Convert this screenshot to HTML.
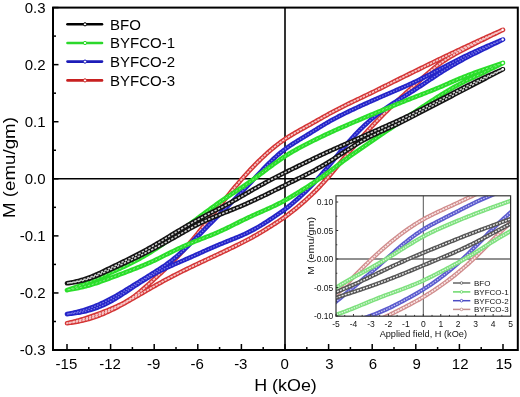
<!DOCTYPE html>
<html><head><meta charset="utf-8"><style>
html,body{margin:0;padding:0;background:#fff;}
body{width:520px;height:397px;overflow:hidden;}
svg{display:block;}
text{font-family:"Liberation Sans",Arial,sans-serif;fill:#000;}
.tl{font-size:15px;}
.ax{font-size:16px;}
.lg{font-size:15px;}
.it{font-size:8.5px;fill:#111;}
.ia{font-size:9.2px;fill:#111;}
.ia2{font-size:9px;fill:#111;}
.il{font-size:8px;fill:#111;}
</style></head><body>
<svg width="520" height="397" viewBox="0 0 520 397">
<defs><clipPath id="ic"><rect x="336" y="195.8" width="174.6" height="120.4"/></clipPath></defs>
<line x1="53" y1="178.8" x2="517.8" y2="178.8" stroke="#000" stroke-width="1.6"/>
<line x1="285.0" y1="7.6" x2="285.0" y2="350" stroke="#000" stroke-width="1.6"/>
<path d="M502.99,29.82 L501.54,30.47 L500.09,31.11 L498.64,31.76 L497.18,32.41 L495.73,33.05 L494.28,33.70 L492.82,34.35 L491.37,35.00 L489.92,35.66 L488.46,36.31 L487.01,36.96 L485.56,37.62 L484.10,38.28 L482.65,38.94 L481.20,39.60 L479.74,40.27 L478.29,40.93 L476.84,41.60 L475.38,42.27 L473.93,42.94 L472.48,43.62 L471.02,44.29 L469.57,44.97 L468.12,45.65 L466.66,46.33 L465.21,47.01 L463.76,47.69 L462.30,48.38 L460.85,49.06 L459.40,49.75 L457.94,50.43 L456.49,51.12 L455.04,51.81 L453.58,52.49 L452.13,53.18 L450.68,53.87 L449.22,54.56 L447.77,55.26 L446.32,55.95 L444.86,56.64 L443.41,57.34 L441.96,58.04 L440.50,58.74 L439.05,59.44 L437.60,60.14 L436.14,60.84 L434.69,61.55 L433.24,62.26 L431.78,62.96 L430.33,63.67 L428.88,64.38 L427.42,65.09 L425.97,65.81 L424.52,66.52 L423.06,67.23 L421.61,67.94 L420.16,68.66 L418.70,69.37 L417.25,70.08 L415.80,70.79 L414.34,71.50 L412.89,72.22 L411.44,72.93 L409.98,73.64 L408.53,74.35 L407.08,75.06 L405.62,75.78 L404.17,76.49 L402.72,77.21 L401.26,77.93 L399.81,78.65 L398.36,79.37 L396.90,80.10 L395.45,80.82 L394.00,81.55 L392.54,82.28 L391.09,83.01 L389.64,83.74 L388.18,84.47 L386.73,85.20 L385.28,85.92 L383.82,86.65 L382.37,87.38 L380.92,88.10 L379.46,88.83 L378.01,89.55 L376.56,90.27 L375.10,90.98 L373.65,91.70 L372.20,92.41 L370.74,93.11 L369.29,93.82 L367.84,94.52 L366.38,95.22 L364.93,95.92 L363.48,96.61 L362.02,97.31 L360.57,98.00 L359.12,98.70 L357.66,99.39 L356.21,100.09 L354.76,100.78 L353.31,101.48 L351.85,102.18 L350.40,102.88 L348.95,103.59 L347.49,104.30 L346.04,105.02 L344.59,105.74 L343.13,106.46 L341.68,107.20 L340.23,107.94 L338.77,108.68 L337.32,109.44 L335.87,110.19 L334.41,110.96 L332.96,111.74 L331.51,112.52 L330.05,113.31 L328.60,114.10 L327.15,114.90 L325.69,115.71 L324.24,116.53 L322.79,117.34 L321.33,118.17 L319.88,118.99 L318.43,119.81 L316.97,120.63 L315.52,121.45 L314.07,122.27 L312.61,123.09 L311.16,123.90 L309.71,124.70 L308.25,125.51 L306.80,126.32 L305.35,127.12 L303.89,127.93 L302.44,128.74 L300.99,129.55 L299.53,130.36 L298.08,131.18 L296.63,132.00 L295.17,132.84 L293.72,133.68 L292.27,134.54 L290.81,135.41 L289.36,136.31 L287.91,137.22 L286.45,138.16 L285.00,139.13 L283.55,140.12 L282.09,141.14 L280.64,142.19 L279.19,143.27 L277.73,144.37 L276.28,145.50 L274.83,146.66 L273.37,147.84 L271.92,149.05 L270.47,150.28 L269.01,151.54 L267.56,152.82 L266.11,154.13 L264.65,155.46 L263.20,156.81 L261.75,158.19 L260.29,159.58 L258.84,161.00 L257.39,162.44 L255.93,163.90 L254.48,165.39 L253.03,166.89 L251.57,168.41 L250.12,169.95 L248.67,171.51 L247.21,173.09 L245.76,174.69 L244.31,176.30 L242.85,177.94 L241.40,179.59 L239.95,181.26 L238.49,182.95 L237.04,184.65 L235.59,186.36 L234.13,188.09 L232.68,189.84 L231.23,191.59 L229.77,193.36 L228.32,195.13 L226.87,196.92 L225.41,198.71 L223.96,200.50 L222.51,202.31 L221.05,204.12 L219.60,205.94 L218.15,207.76 L216.69,209.59 L215.24,211.42 L213.79,213.25 L212.33,215.09 L210.88,216.93 L209.43,218.77 L207.98,220.61 L206.52,222.45 L205.07,224.29 L203.62,226.12 L202.16,227.94 L200.71,229.75 L199.26,231.56 L197.80,233.35 L196.35,235.13 L194.90,236.90 L193.44,238.65 L191.99,240.38 L190.54,242.10 L189.08,243.80 L187.63,245.49 L186.18,247.15 L184.72,248.80 L183.27,250.43 L181.82,252.03 L180.36,253.61 L178.91,255.18 L177.46,256.72 L176.00,258.24 L174.55,259.75 L173.10,261.23 L171.64,262.69 L170.19,264.14 L168.74,265.56 L167.28,266.97 L165.83,268.36 L164.38,269.73 L162.92,271.09 L161.47,272.45 L160.02,273.79 L158.56,275.13 L157.11,276.46 L155.66,277.79 L154.20,279.12 L152.75,280.45 L151.30,281.78 L149.84,283.11 L148.39,284.43 L146.94,285.74 L145.48,287.04 L144.03,288.32 L142.58,289.58 L141.12,290.81 L139.67,292.03 L138.22,293.21 L136.76,294.36 L135.31,295.47 L133.86,296.55 L132.40,297.58 L130.95,298.57 L129.50,299.52 L128.04,300.43 L126.59,301.30 L125.14,302.13 L123.68,302.93 L122.23,303.71 L120.78,304.45 L119.32,305.17 L117.87,305.86 L116.42,306.54 L114.96,307.19 L113.51,307.83 L112.06,308.46 L110.60,309.07 L109.15,309.68 L107.70,310.27 L106.24,310.86 L104.79,311.44 L103.34,312.01 L101.88,312.57 L100.43,313.13 L98.98,313.67 L97.52,314.21 L96.07,314.74 L94.62,315.26 L93.16,315.77 L91.71,316.27 L90.26,316.76 L88.80,317.25 L87.35,317.73 L85.90,318.20 L84.44,318.66 L82.99,319.11 L81.54,319.54 L80.08,319.97 L78.63,320.38 L77.18,320.77 L75.72,321.15 L74.27,321.52 L72.82,321.88 L71.36,322.23 L69.91,322.57 L68.46,322.91 L67.00,323.24 L67.00,323.25 L68.46,323.04 L69.91,322.83 L71.36,322.61 L72.82,322.39 L74.27,322.16 L75.72,321.92 L77.18,321.66 L78.63,321.39 L80.08,321.10 L81.54,320.79 L82.99,320.46 L84.44,320.12 L85.90,319.75 L87.35,319.36 L88.80,318.96 L90.26,318.53 L91.71,318.08 L93.16,317.61 L94.62,317.12 L96.07,316.61 L97.52,316.08 L98.98,315.53 L100.43,314.97 L101.88,314.38 L103.34,313.78 L104.79,313.16 L106.24,312.52 L107.70,311.86 L109.15,311.19 L110.60,310.50 L112.06,309.80 L113.51,309.08 L114.96,308.35 L116.42,307.61 L117.87,306.85 L119.32,306.08 L120.78,305.30 L122.23,304.51 L123.68,303.71 L125.14,302.91 L126.59,302.09 L128.04,301.27 L129.50,300.45 L130.95,299.62 L132.40,298.78 L133.86,297.95 L135.31,297.11 L136.76,296.27 L138.22,295.42 L139.67,294.58 L141.12,293.74 L142.58,292.89 L144.03,292.05 L145.48,291.21 L146.94,290.37 L148.39,289.53 L149.84,288.69 L151.30,287.86 L152.75,287.03 L154.20,286.20 L155.66,285.38 L157.11,284.56 L158.56,283.75 L160.02,282.94 L161.47,282.14 L162.92,281.34 L164.38,280.55 L165.83,279.76 L167.28,278.98 L168.74,278.21 L170.19,277.44 L171.64,276.67 L173.10,275.92 L174.55,275.17 L176.00,274.42 L177.46,273.68 L178.91,272.95 L180.36,272.22 L181.82,271.49 L183.27,270.77 L184.72,270.06 L186.18,269.35 L187.63,268.65 L189.08,267.95 L190.54,267.25 L191.99,266.56 L193.44,265.86 L194.90,265.18 L196.35,264.49 L197.80,263.80 L199.26,263.12 L200.71,262.44 L202.16,261.76 L203.62,261.08 L205.07,260.40 L206.52,259.72 L207.98,259.04 L209.43,258.36 L210.88,257.68 L212.33,257.00 L213.79,256.32 L215.24,255.64 L216.69,254.96 L218.15,254.27 L219.60,253.59 L221.05,252.90 L222.51,252.21 L223.96,251.52 L225.41,250.82 L226.87,250.13 L228.32,249.43 L229.77,248.73 L231.23,248.02 L232.68,247.31 L234.13,246.60 L235.59,245.88 L237.04,245.16 L238.49,244.44 L239.95,243.71 L241.40,242.98 L242.85,242.24 L244.31,241.50 L245.76,240.76 L247.21,240.00 L248.67,239.24 L250.12,238.47 L251.57,237.68 L253.03,236.89 L254.48,236.08 L255.93,235.27 L257.39,234.43 L258.84,233.59 L260.29,232.73 L261.75,231.86 L263.20,230.98 L264.65,230.10 L266.11,229.20 L267.56,228.30 L269.01,227.40 L270.47,226.49 L271.92,225.57 L273.37,224.65 L274.83,223.72 L276.28,222.79 L277.73,221.84 L279.19,220.88 L280.64,219.91 L282.09,218.92 L283.55,217.91 L285.00,216.88 L286.45,215.83 L287.91,214.76 L289.36,213.67 L290.81,212.55 L292.27,211.42 L293.72,210.27 L295.17,209.10 L296.63,207.91 L298.08,206.71 L299.53,205.48 L300.99,204.25 L302.44,202.99 L303.89,201.72 L305.35,200.43 L306.80,199.12 L308.25,197.78 L309.71,196.43 L311.16,195.06 L312.61,193.66 L314.07,192.24 L315.52,190.79 L316.97,189.32 L318.43,187.83 L319.88,186.31 L321.33,184.76 L322.79,183.20 L324.24,181.60 L325.69,179.99 L327.15,178.35 L328.60,176.68 L330.05,174.99 L331.51,173.28 L332.96,171.55 L334.41,169.81 L335.87,168.06 L337.32,166.30 L338.77,164.53 L340.23,162.76 L341.68,161.00 L343.13,159.24 L344.59,157.49 L346.04,155.74 L347.49,154.01 L348.95,152.28 L350.40,150.56 L351.85,148.86 L353.31,147.16 L354.76,145.46 L356.21,143.78 L357.66,142.11 L359.12,140.44 L360.57,138.78 L362.02,137.14 L363.48,135.50 L364.93,133.87 L366.38,132.26 L367.84,130.65 L369.29,129.06 L370.74,127.49 L372.20,125.92 L373.65,124.37 L375.10,122.83 L376.56,121.31 L378.01,119.80 L379.46,118.30 L380.92,116.82 L382.37,115.35 L383.82,113.89 L385.28,112.45 L386.73,111.02 L388.18,109.60 L389.64,108.19 L391.09,106.80 L392.54,105.41 L394.00,104.04 L395.45,102.67 L396.90,101.32 L398.36,99.97 L399.81,98.63 L401.26,97.29 L402.72,95.97 L404.17,94.64 L405.62,93.33 L407.08,92.01 L408.53,90.70 L409.98,89.39 L411.44,88.08 L412.89,86.77 L414.34,85.45 L415.80,84.14 L417.25,82.82 L418.70,81.49 L420.16,80.17 L421.61,78.86 L423.06,77.55 L424.52,76.25 L425.97,74.96 L427.42,73.68 L428.88,72.42 L430.33,71.18 L431.78,69.96 L433.24,68.76 L434.69,67.59 L436.14,66.44 L437.60,65.33 L439.05,64.25 L440.50,63.20 L441.96,62.19 L443.41,61.20 L444.86,60.24 L446.32,59.30 L447.77,58.39 L449.22,57.49 L450.68,56.62 L452.13,55.77 L453.58,54.93 L455.04,54.11 L456.49,53.29 L457.94,52.50 L459.40,51.71 L460.85,50.92 L462.30,50.15 L463.76,49.38 L465.21,48.62 L466.66,47.87 L468.12,47.12 L469.57,46.37 L471.02,45.63 L472.48,44.90 L473.93,44.17 L475.38,43.44 L476.84,42.71 L478.29,41.99 L479.74,41.27 L481.20,40.55 L482.65,39.83 L484.10,39.11 L485.56,38.39 L487.01,37.67 L488.46,36.96 L489.92,36.24 L491.37,35.53 L492.82,34.81 L494.28,34.10 L495.73,33.39 L497.18,32.67 L498.64,31.96 L500.09,31.25 L501.54,30.53 L502.99,29.82 Z" fill="none" stroke="#d43434" stroke-width="4.6" stroke-linejoin="round"/>
<path d="M502.99,29.82 L501.54,30.47 L500.09,31.11 L498.64,31.76 L497.18,32.41 L495.73,33.05 L494.28,33.70 L492.82,34.35 L491.37,35.00 L489.92,35.66 L488.46,36.31 L487.01,36.96 L485.56,37.62 L484.10,38.28 L482.65,38.94 L481.20,39.60 L479.74,40.27 L478.29,40.93 L476.84,41.60 L475.38,42.27 L473.93,42.94 L472.48,43.62 L471.02,44.29 L469.57,44.97 L468.12,45.65 L466.66,46.33 L465.21,47.01 L463.76,47.69 L462.30,48.38 L460.85,49.06 L459.40,49.75 L457.94,50.43 L456.49,51.12 L455.04,51.81 L453.58,52.49 L452.13,53.18 L450.68,53.87 L449.22,54.56 L447.77,55.26 L446.32,55.95 L444.86,56.64 L443.41,57.34 L441.96,58.04 L440.50,58.74 L439.05,59.44 L437.60,60.14 L436.14,60.84 L434.69,61.55 L433.24,62.26 L431.78,62.96 L430.33,63.67 L428.88,64.38 L427.42,65.09 L425.97,65.81 L424.52,66.52 L423.06,67.23 L421.61,67.94 L420.16,68.66 L418.70,69.37 L417.25,70.08 L415.80,70.79 L414.34,71.50 L412.89,72.22 L411.44,72.93 L409.98,73.64 L408.53,74.35 L407.08,75.06 L405.62,75.78 L404.17,76.49 L402.72,77.21 L401.26,77.93 L399.81,78.65 L398.36,79.37 L396.90,80.10 L395.45,80.82 L394.00,81.55 L392.54,82.28 L391.09,83.01 L389.64,83.74 L388.18,84.47 L386.73,85.20 L385.28,85.92 L383.82,86.65 L382.37,87.38 L380.92,88.10 L379.46,88.83 L378.01,89.55 L376.56,90.27 L375.10,90.98 L373.65,91.70 L372.20,92.41 L370.74,93.11 L369.29,93.82 L367.84,94.52 L366.38,95.22 L364.93,95.92 L363.48,96.61 L362.02,97.31 L360.57,98.00 L359.12,98.70 L357.66,99.39 L356.21,100.09 L354.76,100.78 L353.31,101.48 L351.85,102.18 L350.40,102.88 L348.95,103.59 L347.49,104.30 L346.04,105.02 L344.59,105.74 L343.13,106.46 L341.68,107.20 L340.23,107.94 L338.77,108.68 L337.32,109.44 L335.87,110.19 L334.41,110.96 L332.96,111.74 L331.51,112.52 L330.05,113.31 L328.60,114.10 L327.15,114.90 L325.69,115.71 L324.24,116.53 L322.79,117.34 L321.33,118.17 L319.88,118.99 L318.43,119.81 L316.97,120.63 L315.52,121.45 L314.07,122.27 L312.61,123.09 L311.16,123.90 L309.71,124.70 L308.25,125.51 L306.80,126.32 L305.35,127.12 L303.89,127.93 L302.44,128.74 L300.99,129.55 L299.53,130.36 L298.08,131.18 L296.63,132.00 L295.17,132.84 L293.72,133.68 L292.27,134.54 L290.81,135.41 L289.36,136.31 L287.91,137.22 L286.45,138.16 L285.00,139.13 L283.55,140.12 L282.09,141.14 L280.64,142.19 L279.19,143.27 L277.73,144.37 L276.28,145.50 L274.83,146.66 L273.37,147.84 L271.92,149.05 L270.47,150.28 L269.01,151.54 L267.56,152.82 L266.11,154.13 L264.65,155.46 L263.20,156.81 L261.75,158.19 L260.29,159.58 L258.84,161.00 L257.39,162.44 L255.93,163.90 L254.48,165.39 L253.03,166.89 L251.57,168.41 L250.12,169.95 L248.67,171.51 L247.21,173.09 L245.76,174.69 L244.31,176.30 L242.85,177.94 L241.40,179.59 L239.95,181.26 L238.49,182.95 L237.04,184.65 L235.59,186.36 L234.13,188.09 L232.68,189.84 L231.23,191.59 L229.77,193.36 L228.32,195.13 L226.87,196.92 L225.41,198.71 L223.96,200.50 L222.51,202.31 L221.05,204.12 L219.60,205.94 L218.15,207.76 L216.69,209.59 L215.24,211.42 L213.79,213.25 L212.33,215.09 L210.88,216.93 L209.43,218.77 L207.98,220.61 L206.52,222.45 L205.07,224.29 L203.62,226.12 L202.16,227.94 L200.71,229.75 L199.26,231.56 L197.80,233.35 L196.35,235.13 L194.90,236.90 L193.44,238.65 L191.99,240.38 L190.54,242.10 L189.08,243.80 L187.63,245.49 L186.18,247.15 L184.72,248.80 L183.27,250.43 L181.82,252.03 L180.36,253.61 L178.91,255.18 L177.46,256.72 L176.00,258.24 L174.55,259.75 L173.10,261.23 L171.64,262.69 L170.19,264.14 L168.74,265.56 L167.28,266.97 L165.83,268.36 L164.38,269.73 L162.92,271.09 L161.47,272.45 L160.02,273.79 L158.56,275.13 L157.11,276.46 L155.66,277.79 L154.20,279.12 L152.75,280.45 L151.30,281.78 L149.84,283.11 L148.39,284.43 L146.94,285.74 L145.48,287.04 L144.03,288.32 L142.58,289.58 L141.12,290.81 L139.67,292.03 L138.22,293.21 L136.76,294.36 L135.31,295.47 L133.86,296.55 L132.40,297.58 L130.95,298.57 L129.50,299.52 L128.04,300.43 L126.59,301.30 L125.14,302.13 L123.68,302.93 L122.23,303.71 L120.78,304.45 L119.32,305.17 L117.87,305.86 L116.42,306.54 L114.96,307.19 L113.51,307.83 L112.06,308.46 L110.60,309.07 L109.15,309.68 L107.70,310.27 L106.24,310.86 L104.79,311.44 L103.34,312.01 L101.88,312.57 L100.43,313.13 L98.98,313.67 L97.52,314.21 L96.07,314.74 L94.62,315.26 L93.16,315.77 L91.71,316.27 L90.26,316.76 L88.80,317.25 L87.35,317.73 L85.90,318.20 L84.44,318.66 L82.99,319.11 L81.54,319.54 L80.08,319.97 L78.63,320.38 L77.18,320.77 L75.72,321.15 L74.27,321.52 L72.82,321.88 L71.36,322.23 L69.91,322.57 L68.46,322.91 L67.00,323.24 L67.00,323.25 L68.46,323.04 L69.91,322.83 L71.36,322.61 L72.82,322.39 L74.27,322.16 L75.72,321.92 L77.18,321.66 L78.63,321.39 L80.08,321.10 L81.54,320.79 L82.99,320.46 L84.44,320.12 L85.90,319.75 L87.35,319.36 L88.80,318.96 L90.26,318.53 L91.71,318.08 L93.16,317.61 L94.62,317.12 L96.07,316.61 L97.52,316.08 L98.98,315.53 L100.43,314.97 L101.88,314.38 L103.34,313.78 L104.79,313.16 L106.24,312.52 L107.70,311.86 L109.15,311.19 L110.60,310.50 L112.06,309.80 L113.51,309.08 L114.96,308.35 L116.42,307.61 L117.87,306.85 L119.32,306.08 L120.78,305.30 L122.23,304.51 L123.68,303.71 L125.14,302.91 L126.59,302.09 L128.04,301.27 L129.50,300.45 L130.95,299.62 L132.40,298.78 L133.86,297.95 L135.31,297.11 L136.76,296.27 L138.22,295.42 L139.67,294.58 L141.12,293.74 L142.58,292.89 L144.03,292.05 L145.48,291.21 L146.94,290.37 L148.39,289.53 L149.84,288.69 L151.30,287.86 L152.75,287.03 L154.20,286.20 L155.66,285.38 L157.11,284.56 L158.56,283.75 L160.02,282.94 L161.47,282.14 L162.92,281.34 L164.38,280.55 L165.83,279.76 L167.28,278.98 L168.74,278.21 L170.19,277.44 L171.64,276.67 L173.10,275.92 L174.55,275.17 L176.00,274.42 L177.46,273.68 L178.91,272.95 L180.36,272.22 L181.82,271.49 L183.27,270.77 L184.72,270.06 L186.18,269.35 L187.63,268.65 L189.08,267.95 L190.54,267.25 L191.99,266.56 L193.44,265.86 L194.90,265.18 L196.35,264.49 L197.80,263.80 L199.26,263.12 L200.71,262.44 L202.16,261.76 L203.62,261.08 L205.07,260.40 L206.52,259.72 L207.98,259.04 L209.43,258.36 L210.88,257.68 L212.33,257.00 L213.79,256.32 L215.24,255.64 L216.69,254.96 L218.15,254.27 L219.60,253.59 L221.05,252.90 L222.51,252.21 L223.96,251.52 L225.41,250.82 L226.87,250.13 L228.32,249.43 L229.77,248.73 L231.23,248.02 L232.68,247.31 L234.13,246.60 L235.59,245.88 L237.04,245.16 L238.49,244.44 L239.95,243.71 L241.40,242.98 L242.85,242.24 L244.31,241.50 L245.76,240.76 L247.21,240.00 L248.67,239.24 L250.12,238.47 L251.57,237.68 L253.03,236.89 L254.48,236.08 L255.93,235.27 L257.39,234.43 L258.84,233.59 L260.29,232.73 L261.75,231.86 L263.20,230.98 L264.65,230.10 L266.11,229.20 L267.56,228.30 L269.01,227.40 L270.47,226.49 L271.92,225.57 L273.37,224.65 L274.83,223.72 L276.28,222.79 L277.73,221.84 L279.19,220.88 L280.64,219.91 L282.09,218.92 L283.55,217.91 L285.00,216.88 L286.45,215.83 L287.91,214.76 L289.36,213.67 L290.81,212.55 L292.27,211.42 L293.72,210.27 L295.17,209.10 L296.63,207.91 L298.08,206.71 L299.53,205.48 L300.99,204.25 L302.44,202.99 L303.89,201.72 L305.35,200.43 L306.80,199.12 L308.25,197.78 L309.71,196.43 L311.16,195.06 L312.61,193.66 L314.07,192.24 L315.52,190.79 L316.97,189.32 L318.43,187.83 L319.88,186.31 L321.33,184.76 L322.79,183.20 L324.24,181.60 L325.69,179.99 L327.15,178.35 L328.60,176.68 L330.05,174.99 L331.51,173.28 L332.96,171.55 L334.41,169.81 L335.87,168.06 L337.32,166.30 L338.77,164.53 L340.23,162.76 L341.68,161.00 L343.13,159.24 L344.59,157.49 L346.04,155.74 L347.49,154.01 L348.95,152.28 L350.40,150.56 L351.85,148.86 L353.31,147.16 L354.76,145.46 L356.21,143.78 L357.66,142.11 L359.12,140.44 L360.57,138.78 L362.02,137.14 L363.48,135.50 L364.93,133.87 L366.38,132.26 L367.84,130.65 L369.29,129.06 L370.74,127.49 L372.20,125.92 L373.65,124.37 L375.10,122.83 L376.56,121.31 L378.01,119.80 L379.46,118.30 L380.92,116.82 L382.37,115.35 L383.82,113.89 L385.28,112.45 L386.73,111.02 L388.18,109.60 L389.64,108.19 L391.09,106.80 L392.54,105.41 L394.00,104.04 L395.45,102.67 L396.90,101.32 L398.36,99.97 L399.81,98.63 L401.26,97.29 L402.72,95.97 L404.17,94.64 L405.62,93.33 L407.08,92.01 L408.53,90.70 L409.98,89.39 L411.44,88.08 L412.89,86.77 L414.34,85.45 L415.80,84.14 L417.25,82.82 L418.70,81.49 L420.16,80.17 L421.61,78.86 L423.06,77.55 L424.52,76.25 L425.97,74.96 L427.42,73.68 L428.88,72.42 L430.33,71.18 L431.78,69.96 L433.24,68.76 L434.69,67.59 L436.14,66.44 L437.60,65.33 L439.05,64.25 L440.50,63.20 L441.96,62.19 L443.41,61.20 L444.86,60.24 L446.32,59.30 L447.77,58.39 L449.22,57.49 L450.68,56.62 L452.13,55.77 L453.58,54.93 L455.04,54.11 L456.49,53.29 L457.94,52.50 L459.40,51.71 L460.85,50.92 L462.30,50.15 L463.76,49.38 L465.21,48.62 L466.66,47.87 L468.12,47.12 L469.57,46.37 L471.02,45.63 L472.48,44.90 L473.93,44.17 L475.38,43.44 L476.84,42.71 L478.29,41.99 L479.74,41.27 L481.20,40.55 L482.65,39.83 L484.10,39.11 L485.56,38.39 L487.01,37.67 L488.46,36.96 L489.92,36.24 L491.37,35.53 L492.82,34.81 L494.28,34.10 L495.73,33.39 L497.18,32.67 L498.64,31.96 L500.09,31.25 L501.54,30.53 L502.99,29.82 Z" fill="none" stroke="#f6c6c6" stroke-width="1.7" stroke-dasharray="2.6 0.8"/>
<path d="M502.99,39.52 L501.54,40.12 L500.09,40.73 L498.64,41.33 L497.18,41.93 L495.73,42.54 L494.28,43.15 L492.82,43.76 L491.37,44.37 L489.92,44.99 L488.46,45.61 L487.01,46.23 L485.56,46.86 L484.10,47.49 L482.65,48.13 L481.20,48.77 L479.74,49.42 L478.29,50.07 L476.84,50.73 L475.38,51.39 L473.93,52.06 L472.48,52.73 L471.02,53.42 L469.57,54.10 L468.12,54.79 L466.66,55.49 L465.21,56.19 L463.76,56.90 L462.30,57.62 L460.85,58.34 L459.40,59.06 L457.94,59.79 L456.49,60.53 L455.04,61.27 L453.58,62.01 L452.13,62.76 L450.68,63.51 L449.22,64.27 L447.77,65.03 L446.32,65.79 L444.86,66.55 L443.41,67.31 L441.96,68.08 L440.50,68.84 L439.05,69.61 L437.60,70.37 L436.14,71.13 L434.69,71.90 L433.24,72.66 L431.78,73.42 L430.33,74.17 L428.88,74.92 L427.42,75.67 L425.97,76.41 L424.52,77.15 L423.06,77.89 L421.61,78.62 L420.16,79.34 L418.70,80.05 L417.25,80.76 L415.80,81.46 L414.34,82.15 L412.89,82.83 L411.44,83.51 L409.98,84.18 L408.53,84.84 L407.08,85.50 L405.62,86.15 L404.17,86.80 L402.72,87.44 L401.26,88.08 L399.81,88.72 L398.36,89.35 L396.90,89.98 L395.45,90.61 L394.00,91.24 L392.54,91.86 L391.09,92.49 L389.64,93.11 L388.18,93.74 L386.73,94.36 L385.28,94.99 L383.82,95.62 L382.37,96.24 L380.92,96.87 L379.46,97.51 L378.01,98.14 L376.56,98.77 L375.10,99.41 L373.65,100.05 L372.20,100.69 L370.74,101.34 L369.29,101.99 L367.84,102.64 L366.38,103.30 L364.93,103.95 L363.48,104.61 L362.02,105.28 L360.57,105.94 L359.12,106.61 L357.66,107.28 L356.21,107.96 L354.76,108.63 L353.31,109.31 L351.85,110.00 L350.40,110.69 L348.95,111.38 L347.49,112.08 L346.04,112.78 L344.59,113.49 L343.13,114.21 L341.68,114.94 L340.23,115.67 L338.77,116.41 L337.32,117.17 L335.87,117.93 L334.41,118.70 L332.96,119.49 L331.51,120.29 L330.05,121.10 L328.60,121.93 L327.15,122.77 L325.69,123.63 L324.24,124.49 L322.79,125.37 L321.33,126.26 L319.88,127.15 L318.43,128.04 L316.97,128.94 L315.52,129.84 L314.07,130.74 L312.61,131.64 L311.16,132.53 L309.71,133.42 L308.25,134.31 L306.80,135.20 L305.35,136.09 L303.89,136.98 L302.44,137.87 L300.99,138.76 L299.53,139.65 L298.08,140.54 L296.63,141.44 L295.17,142.35 L293.72,143.27 L292.27,144.21 L290.81,145.16 L289.36,146.14 L287.91,147.14 L286.45,148.18 L285.00,149.24 L283.55,150.35 L282.09,151.49 L280.64,152.66 L279.19,153.87 L277.73,155.11 L276.28,156.39 L274.83,157.69 L273.37,159.03 L271.92,160.40 L270.47,161.80 L269.01,163.23 L267.56,164.69 L266.11,166.16 L264.65,167.66 L263.20,169.18 L261.75,170.71 L260.29,172.25 L258.84,173.79 L257.39,175.35 L255.93,176.90 L254.48,178.45 L253.03,180.01 L251.57,181.55 L250.12,183.10 L248.67,184.64 L247.21,186.18 L245.76,187.71 L244.31,189.24 L242.85,190.76 L241.40,192.28 L239.95,193.79 L238.49,195.29 L237.04,196.79 L235.59,198.28 L234.13,199.76 L232.68,201.24 L231.23,202.71 L229.77,204.18 L228.32,205.64 L226.87,207.10 L225.41,208.55 L223.96,210.00 L222.51,211.44 L221.05,212.89 L219.60,214.33 L218.15,215.77 L216.69,217.22 L215.24,218.66 L213.79,220.11 L212.33,221.56 L210.88,223.02 L209.43,224.48 L207.98,225.94 L206.52,227.41 L205.07,228.88 L203.62,230.35 L202.16,231.82 L200.71,233.29 L199.26,234.76 L197.80,236.23 L196.35,237.69 L194.90,239.15 L193.44,240.61 L191.99,242.05 L190.54,243.49 L189.08,244.91 L187.63,246.32 L186.18,247.72 L184.72,249.09 L183.27,250.45 L181.82,251.78 L180.36,253.10 L178.91,254.39 L177.46,255.65 L176.00,256.89 L174.55,258.10 L173.10,259.29 L171.64,260.44 L170.19,261.57 L168.74,262.67 L167.28,263.73 L165.83,264.77 L164.38,265.78 L162.92,266.77 L161.47,267.74 L160.02,268.69 L158.56,269.63 L157.11,270.55 L155.66,271.47 L154.20,272.39 L152.75,273.30 L151.30,274.21 L149.84,275.12 L148.39,276.03 L146.94,276.93 L145.48,277.84 L144.03,278.74 L142.58,279.65 L141.12,280.55 L139.67,281.45 L138.22,282.35 L136.76,283.25 L135.31,284.15 L133.86,285.06 L132.40,285.96 L130.95,286.86 L129.50,287.76 L128.04,288.66 L126.59,289.56 L125.14,290.45 L123.68,291.34 L122.23,292.22 L120.78,293.09 L119.32,293.95 L117.87,294.81 L116.42,295.65 L114.96,296.48 L113.51,297.29 L112.06,298.09 L110.60,298.87 L109.15,299.63 L107.70,300.38 L106.24,301.11 L104.79,301.82 L103.34,302.51 L101.88,303.19 L100.43,303.85 L98.98,304.49 L97.52,305.11 L96.07,305.71 L94.62,306.30 L93.16,306.87 L91.71,307.42 L90.26,307.95 L88.80,308.47 L87.35,308.97 L85.90,309.45 L84.44,309.91 L82.99,310.35 L81.54,310.78 L80.08,311.18 L78.63,311.57 L77.18,311.93 L75.72,312.28 L74.27,312.61 L72.82,312.93 L71.36,313.24 L69.91,313.54 L68.46,313.83 L67.00,314.12 L67.00,314.12 L68.46,313.96 L69.91,313.79 L71.36,313.63 L72.82,313.45 L74.27,313.26 L75.72,313.07 L77.18,312.85 L78.63,312.62 L80.08,312.37 L81.54,312.10 L82.99,311.80 L84.44,311.49 L85.90,311.15 L87.35,310.79 L88.80,310.40 L90.26,309.99 L91.71,309.55 L93.16,309.09 L94.62,308.59 L96.07,308.08 L97.52,307.53 L98.98,306.96 L100.43,306.37 L101.88,305.74 L103.34,305.09 L104.79,304.42 L106.24,303.71 L107.70,302.98 L109.15,302.22 L110.60,301.44 L112.06,300.63 L113.51,299.79 L114.96,298.93 L116.42,298.06 L117.87,297.16 L119.32,296.24 L120.78,295.31 L122.23,294.37 L123.68,293.42 L125.14,292.46 L126.59,291.49 L128.04,290.52 L129.50,289.55 L130.95,288.57 L132.40,287.60 L133.86,286.64 L135.31,285.68 L136.76,284.72 L138.22,283.78 L139.67,282.84 L141.12,281.91 L142.58,280.98 L144.03,280.07 L145.48,279.18 L146.94,278.29 L148.39,277.42 L149.84,276.56 L151.30,275.72 L152.75,274.89 L154.20,274.08 L155.66,273.29 L157.11,272.52 L158.56,271.76 L160.02,271.02 L161.47,270.29 L162.92,269.58 L164.38,268.88 L165.83,268.19 L167.28,267.52 L168.74,266.85 L170.19,266.20 L171.64,265.55 L173.10,264.91 L174.55,264.27 L176.00,263.64 L177.46,263.01 L178.91,262.38 L180.36,261.76 L181.82,261.13 L183.27,260.50 L184.72,259.87 L186.18,259.23 L187.63,258.59 L189.08,257.95 L190.54,257.30 L191.99,256.65 L193.44,256.00 L194.90,255.35 L196.35,254.69 L197.80,254.04 L199.26,253.38 L200.71,252.73 L202.16,252.07 L203.62,251.42 L205.07,250.77 L206.52,250.12 L207.98,249.47 L209.43,248.83 L210.88,248.19 L212.33,247.56 L213.79,246.93 L215.24,246.31 L216.69,245.69 L218.15,245.08 L219.60,244.47 L221.05,243.87 L222.51,243.27 L223.96,242.68 L225.41,242.09 L226.87,241.50 L228.32,240.92 L229.77,240.34 L231.23,239.76 L232.68,239.18 L234.13,238.59 L235.59,238.00 L237.04,237.40 L238.49,236.79 L239.95,236.17 L241.40,235.54 L242.85,234.89 L244.31,234.23 L245.76,233.55 L247.21,232.86 L248.67,232.14 L250.12,231.41 L251.57,230.66 L253.03,229.90 L254.48,229.11 L255.93,228.30 L257.39,227.47 L258.84,226.61 L260.29,225.74 L261.75,224.86 L263.20,223.96 L264.65,223.05 L266.11,222.12 L267.56,221.19 L269.01,220.25 L270.47,219.30 L271.92,218.35 L273.37,217.39 L274.83,216.43 L276.28,215.45 L277.73,214.46 L279.19,213.46 L280.64,212.44 L282.09,211.41 L283.55,210.35 L285.00,209.28 L286.45,208.18 L287.91,207.06 L289.36,205.91 L290.81,204.74 L292.27,203.55 L293.72,202.33 L295.17,201.09 L296.63,199.83 L298.08,198.54 L299.53,197.24 L300.99,195.91 L302.44,194.55 L303.89,193.18 L305.35,191.78 L306.80,190.36 L308.25,188.91 L309.71,187.44 L311.16,185.94 L312.61,184.42 L314.07,182.87 L315.52,181.29 L316.97,179.69 L318.43,178.06 L319.88,176.42 L321.33,174.74 L322.79,173.05 L324.24,171.34 L325.69,169.62 L327.15,167.87 L328.60,166.11 L330.05,164.34 L331.51,162.55 L332.96,160.76 L334.41,158.96 L335.87,157.17 L337.32,155.37 L338.77,153.59 L340.23,151.82 L341.68,150.06 L343.13,148.31 L344.59,146.59 L346.04,144.89 L347.49,143.22 L348.95,141.56 L350.40,139.93 L351.85,138.33 L353.31,136.74 L354.76,135.19 L356.21,133.66 L357.66,132.16 L359.12,130.68 L360.57,129.23 L362.02,127.81 L363.48,126.41 L364.93,125.04 L366.38,123.70 L367.84,122.39 L369.29,121.10 L370.74,119.84 L372.20,118.60 L373.65,117.40 L375.10,116.22 L376.56,115.06 L378.01,113.93 L379.46,112.82 L380.92,111.74 L382.37,110.67 L383.82,109.63 L385.28,108.60 L386.73,107.59 L388.18,106.60 L389.64,105.63 L391.09,104.67 L392.54,103.72 L394.00,102.78 L395.45,101.85 L396.90,100.93 L398.36,100.02 L399.81,99.11 L401.26,98.20 L402.72,97.30 L404.17,96.40 L405.62,95.49 L407.08,94.59 L408.53,93.69 L409.98,92.78 L411.44,91.86 L412.89,90.94 L414.34,90.02 L415.80,89.08 L417.25,88.14 L418.70,87.19 L420.16,86.23 L421.61,85.27 L423.06,84.30 L424.52,83.33 L425.97,82.36 L427.42,81.38 L428.88,80.41 L430.33,79.44 L431.78,78.47 L433.24,77.50 L434.69,76.54 L436.14,75.58 L437.60,74.63 L439.05,73.69 L440.50,72.76 L441.96,71.83 L443.41,70.92 L444.86,70.01 L446.32,69.11 L447.77,68.22 L449.22,67.34 L450.68,66.47 L452.13,65.61 L453.58,64.76 L455.04,63.92 L456.49,63.09 L457.94,62.26 L459.40,61.45 L460.85,60.65 L462.30,59.86 L463.76,59.08 L465.21,58.31 L466.66,57.54 L468.12,56.79 L469.57,56.04 L471.02,55.29 L472.48,54.55 L473.93,53.82 L475.38,53.09 L476.84,52.37 L478.29,51.64 L479.74,50.92 L481.20,50.20 L482.65,49.49 L484.10,48.77 L485.56,48.06 L487.01,47.34 L488.46,46.63 L489.92,45.92 L491.37,45.20 L492.82,44.49 L494.28,43.78 L495.73,43.07 L497.18,42.36 L498.64,41.65 L500.09,40.94 L501.54,40.23 L502.99,39.52 Z" fill="none" stroke="#2424c8" stroke-width="4.6" stroke-linejoin="round"/>
<path d="M502.99,39.52 L501.54,40.12 L500.09,40.73 L498.64,41.33 L497.18,41.93 L495.73,42.54 L494.28,43.15 L492.82,43.76 L491.37,44.37 L489.92,44.99 L488.46,45.61 L487.01,46.23 L485.56,46.86 L484.10,47.49 L482.65,48.13 L481.20,48.77 L479.74,49.42 L478.29,50.07 L476.84,50.73 L475.38,51.39 L473.93,52.06 L472.48,52.73 L471.02,53.42 L469.57,54.10 L468.12,54.79 L466.66,55.49 L465.21,56.19 L463.76,56.90 L462.30,57.62 L460.85,58.34 L459.40,59.06 L457.94,59.79 L456.49,60.53 L455.04,61.27 L453.58,62.01 L452.13,62.76 L450.68,63.51 L449.22,64.27 L447.77,65.03 L446.32,65.79 L444.86,66.55 L443.41,67.31 L441.96,68.08 L440.50,68.84 L439.05,69.61 L437.60,70.37 L436.14,71.13 L434.69,71.90 L433.24,72.66 L431.78,73.42 L430.33,74.17 L428.88,74.92 L427.42,75.67 L425.97,76.41 L424.52,77.15 L423.06,77.89 L421.61,78.62 L420.16,79.34 L418.70,80.05 L417.25,80.76 L415.80,81.46 L414.34,82.15 L412.89,82.83 L411.44,83.51 L409.98,84.18 L408.53,84.84 L407.08,85.50 L405.62,86.15 L404.17,86.80 L402.72,87.44 L401.26,88.08 L399.81,88.72 L398.36,89.35 L396.90,89.98 L395.45,90.61 L394.00,91.24 L392.54,91.86 L391.09,92.49 L389.64,93.11 L388.18,93.74 L386.73,94.36 L385.28,94.99 L383.82,95.62 L382.37,96.24 L380.92,96.87 L379.46,97.51 L378.01,98.14 L376.56,98.77 L375.10,99.41 L373.65,100.05 L372.20,100.69 L370.74,101.34 L369.29,101.99 L367.84,102.64 L366.38,103.30 L364.93,103.95 L363.48,104.61 L362.02,105.28 L360.57,105.94 L359.12,106.61 L357.66,107.28 L356.21,107.96 L354.76,108.63 L353.31,109.31 L351.85,110.00 L350.40,110.69 L348.95,111.38 L347.49,112.08 L346.04,112.78 L344.59,113.49 L343.13,114.21 L341.68,114.94 L340.23,115.67 L338.77,116.41 L337.32,117.17 L335.87,117.93 L334.41,118.70 L332.96,119.49 L331.51,120.29 L330.05,121.10 L328.60,121.93 L327.15,122.77 L325.69,123.63 L324.24,124.49 L322.79,125.37 L321.33,126.26 L319.88,127.15 L318.43,128.04 L316.97,128.94 L315.52,129.84 L314.07,130.74 L312.61,131.64 L311.16,132.53 L309.71,133.42 L308.25,134.31 L306.80,135.20 L305.35,136.09 L303.89,136.98 L302.44,137.87 L300.99,138.76 L299.53,139.65 L298.08,140.54 L296.63,141.44 L295.17,142.35 L293.72,143.27 L292.27,144.21 L290.81,145.16 L289.36,146.14 L287.91,147.14 L286.45,148.18 L285.00,149.24 L283.55,150.35 L282.09,151.49 L280.64,152.66 L279.19,153.87 L277.73,155.11 L276.28,156.39 L274.83,157.69 L273.37,159.03 L271.92,160.40 L270.47,161.80 L269.01,163.23 L267.56,164.69 L266.11,166.16 L264.65,167.66 L263.20,169.18 L261.75,170.71 L260.29,172.25 L258.84,173.79 L257.39,175.35 L255.93,176.90 L254.48,178.45 L253.03,180.01 L251.57,181.55 L250.12,183.10 L248.67,184.64 L247.21,186.18 L245.76,187.71 L244.31,189.24 L242.85,190.76 L241.40,192.28 L239.95,193.79 L238.49,195.29 L237.04,196.79 L235.59,198.28 L234.13,199.76 L232.68,201.24 L231.23,202.71 L229.77,204.18 L228.32,205.64 L226.87,207.10 L225.41,208.55 L223.96,210.00 L222.51,211.44 L221.05,212.89 L219.60,214.33 L218.15,215.77 L216.69,217.22 L215.24,218.66 L213.79,220.11 L212.33,221.56 L210.88,223.02 L209.43,224.48 L207.98,225.94 L206.52,227.41 L205.07,228.88 L203.62,230.35 L202.16,231.82 L200.71,233.29 L199.26,234.76 L197.80,236.23 L196.35,237.69 L194.90,239.15 L193.44,240.61 L191.99,242.05 L190.54,243.49 L189.08,244.91 L187.63,246.32 L186.18,247.72 L184.72,249.09 L183.27,250.45 L181.82,251.78 L180.36,253.10 L178.91,254.39 L177.46,255.65 L176.00,256.89 L174.55,258.10 L173.10,259.29 L171.64,260.44 L170.19,261.57 L168.74,262.67 L167.28,263.73 L165.83,264.77 L164.38,265.78 L162.92,266.77 L161.47,267.74 L160.02,268.69 L158.56,269.63 L157.11,270.55 L155.66,271.47 L154.20,272.39 L152.75,273.30 L151.30,274.21 L149.84,275.12 L148.39,276.03 L146.94,276.93 L145.48,277.84 L144.03,278.74 L142.58,279.65 L141.12,280.55 L139.67,281.45 L138.22,282.35 L136.76,283.25 L135.31,284.15 L133.86,285.06 L132.40,285.96 L130.95,286.86 L129.50,287.76 L128.04,288.66 L126.59,289.56 L125.14,290.45 L123.68,291.34 L122.23,292.22 L120.78,293.09 L119.32,293.95 L117.87,294.81 L116.42,295.65 L114.96,296.48 L113.51,297.29 L112.06,298.09 L110.60,298.87 L109.15,299.63 L107.70,300.38 L106.24,301.11 L104.79,301.82 L103.34,302.51 L101.88,303.19 L100.43,303.85 L98.98,304.49 L97.52,305.11 L96.07,305.71 L94.62,306.30 L93.16,306.87 L91.71,307.42 L90.26,307.95 L88.80,308.47 L87.35,308.97 L85.90,309.45 L84.44,309.91 L82.99,310.35 L81.54,310.78 L80.08,311.18 L78.63,311.57 L77.18,311.93 L75.72,312.28 L74.27,312.61 L72.82,312.93 L71.36,313.24 L69.91,313.54 L68.46,313.83 L67.00,314.12 L67.00,314.12 L68.46,313.96 L69.91,313.79 L71.36,313.63 L72.82,313.45 L74.27,313.26 L75.72,313.07 L77.18,312.85 L78.63,312.62 L80.08,312.37 L81.54,312.10 L82.99,311.80 L84.44,311.49 L85.90,311.15 L87.35,310.79 L88.80,310.40 L90.26,309.99 L91.71,309.55 L93.16,309.09 L94.62,308.59 L96.07,308.08 L97.52,307.53 L98.98,306.96 L100.43,306.37 L101.88,305.74 L103.34,305.09 L104.79,304.42 L106.24,303.71 L107.70,302.98 L109.15,302.22 L110.60,301.44 L112.06,300.63 L113.51,299.79 L114.96,298.93 L116.42,298.06 L117.87,297.16 L119.32,296.24 L120.78,295.31 L122.23,294.37 L123.68,293.42 L125.14,292.46 L126.59,291.49 L128.04,290.52 L129.50,289.55 L130.95,288.57 L132.40,287.60 L133.86,286.64 L135.31,285.68 L136.76,284.72 L138.22,283.78 L139.67,282.84 L141.12,281.91 L142.58,280.98 L144.03,280.07 L145.48,279.18 L146.94,278.29 L148.39,277.42 L149.84,276.56 L151.30,275.72 L152.75,274.89 L154.20,274.08 L155.66,273.29 L157.11,272.52 L158.56,271.76 L160.02,271.02 L161.47,270.29 L162.92,269.58 L164.38,268.88 L165.83,268.19 L167.28,267.52 L168.74,266.85 L170.19,266.20 L171.64,265.55 L173.10,264.91 L174.55,264.27 L176.00,263.64 L177.46,263.01 L178.91,262.38 L180.36,261.76 L181.82,261.13 L183.27,260.50 L184.72,259.87 L186.18,259.23 L187.63,258.59 L189.08,257.95 L190.54,257.30 L191.99,256.65 L193.44,256.00 L194.90,255.35 L196.35,254.69 L197.80,254.04 L199.26,253.38 L200.71,252.73 L202.16,252.07 L203.62,251.42 L205.07,250.77 L206.52,250.12 L207.98,249.47 L209.43,248.83 L210.88,248.19 L212.33,247.56 L213.79,246.93 L215.24,246.31 L216.69,245.69 L218.15,245.08 L219.60,244.47 L221.05,243.87 L222.51,243.27 L223.96,242.68 L225.41,242.09 L226.87,241.50 L228.32,240.92 L229.77,240.34 L231.23,239.76 L232.68,239.18 L234.13,238.59 L235.59,238.00 L237.04,237.40 L238.49,236.79 L239.95,236.17 L241.40,235.54 L242.85,234.89 L244.31,234.23 L245.76,233.55 L247.21,232.86 L248.67,232.14 L250.12,231.41 L251.57,230.66 L253.03,229.90 L254.48,229.11 L255.93,228.30 L257.39,227.47 L258.84,226.61 L260.29,225.74 L261.75,224.86 L263.20,223.96 L264.65,223.05 L266.11,222.12 L267.56,221.19 L269.01,220.25 L270.47,219.30 L271.92,218.35 L273.37,217.39 L274.83,216.43 L276.28,215.45 L277.73,214.46 L279.19,213.46 L280.64,212.44 L282.09,211.41 L283.55,210.35 L285.00,209.28 L286.45,208.18 L287.91,207.06 L289.36,205.91 L290.81,204.74 L292.27,203.55 L293.72,202.33 L295.17,201.09 L296.63,199.83 L298.08,198.54 L299.53,197.24 L300.99,195.91 L302.44,194.55 L303.89,193.18 L305.35,191.78 L306.80,190.36 L308.25,188.91 L309.71,187.44 L311.16,185.94 L312.61,184.42 L314.07,182.87 L315.52,181.29 L316.97,179.69 L318.43,178.06 L319.88,176.42 L321.33,174.74 L322.79,173.05 L324.24,171.34 L325.69,169.62 L327.15,167.87 L328.60,166.11 L330.05,164.34 L331.51,162.55 L332.96,160.76 L334.41,158.96 L335.87,157.17 L337.32,155.37 L338.77,153.59 L340.23,151.82 L341.68,150.06 L343.13,148.31 L344.59,146.59 L346.04,144.89 L347.49,143.22 L348.95,141.56 L350.40,139.93 L351.85,138.33 L353.31,136.74 L354.76,135.19 L356.21,133.66 L357.66,132.16 L359.12,130.68 L360.57,129.23 L362.02,127.81 L363.48,126.41 L364.93,125.04 L366.38,123.70 L367.84,122.39 L369.29,121.10 L370.74,119.84 L372.20,118.60 L373.65,117.40 L375.10,116.22 L376.56,115.06 L378.01,113.93 L379.46,112.82 L380.92,111.74 L382.37,110.67 L383.82,109.63 L385.28,108.60 L386.73,107.59 L388.18,106.60 L389.64,105.63 L391.09,104.67 L392.54,103.72 L394.00,102.78 L395.45,101.85 L396.90,100.93 L398.36,100.02 L399.81,99.11 L401.26,98.20 L402.72,97.30 L404.17,96.40 L405.62,95.49 L407.08,94.59 L408.53,93.69 L409.98,92.78 L411.44,91.86 L412.89,90.94 L414.34,90.02 L415.80,89.08 L417.25,88.14 L418.70,87.19 L420.16,86.23 L421.61,85.27 L423.06,84.30 L424.52,83.33 L425.97,82.36 L427.42,81.38 L428.88,80.41 L430.33,79.44 L431.78,78.47 L433.24,77.50 L434.69,76.54 L436.14,75.58 L437.60,74.63 L439.05,73.69 L440.50,72.76 L441.96,71.83 L443.41,70.92 L444.86,70.01 L446.32,69.11 L447.77,68.22 L449.22,67.34 L450.68,66.47 L452.13,65.61 L453.58,64.76 L455.04,63.92 L456.49,63.09 L457.94,62.26 L459.40,61.45 L460.85,60.65 L462.30,59.86 L463.76,59.08 L465.21,58.31 L466.66,57.54 L468.12,56.79 L469.57,56.04 L471.02,55.29 L472.48,54.55 L473.93,53.82 L475.38,53.09 L476.84,52.37 L478.29,51.64 L479.74,50.92 L481.20,50.20 L482.65,49.49 L484.10,48.77 L485.56,48.06 L487.01,47.34 L488.46,46.63 L489.92,45.92 L491.37,45.20 L492.82,44.49 L494.28,43.78 L495.73,43.07 L497.18,42.36 L498.64,41.65 L500.09,40.94 L501.54,40.23 L502.99,39.52 Z" fill="none" stroke="#7c7ce8" stroke-width="1.2" stroke-dasharray="1.6 1.4"/>
<path d="M502.99,62.92 L501.54,63.41 L500.09,63.89 L498.64,64.38 L497.18,64.87 L495.73,65.36 L494.28,65.85 L492.82,66.34 L491.37,66.83 L489.92,67.32 L488.46,67.82 L487.01,68.32 L485.56,68.83 L484.10,69.33 L482.65,69.85 L481.20,70.36 L479.74,70.88 L478.29,71.40 L476.84,71.93 L475.38,72.46 L473.93,73.00 L472.48,73.54 L471.02,74.09 L469.57,74.65 L468.12,75.21 L466.66,75.78 L465.21,76.35 L463.76,76.93 L462.30,77.52 L460.85,78.12 L459.40,78.72 L457.94,79.33 L456.49,79.95 L455.04,80.57 L453.58,81.20 L452.13,81.83 L450.68,82.46 L449.22,83.10 L447.77,83.74 L446.32,84.37 L444.86,85.01 L443.41,85.64 L441.96,86.27 L440.50,86.89 L439.05,87.51 L437.60,88.12 L436.14,88.73 L434.69,89.33 L433.24,89.92 L431.78,90.50 L430.33,91.09 L428.88,91.66 L427.42,92.23 L425.97,92.80 L424.52,93.37 L423.06,93.93 L421.61,94.49 L420.16,95.06 L418.70,95.62 L417.25,96.18 L415.80,96.74 L414.34,97.30 L412.89,97.87 L411.44,98.44 L409.98,99.00 L408.53,99.58 L407.08,100.15 L405.62,100.72 L404.17,101.30 L402.72,101.88 L401.26,102.47 L399.81,103.05 L398.36,103.64 L396.90,104.23 L395.45,104.83 L394.00,105.42 L392.54,106.02 L391.09,106.62 L389.64,107.21 L388.18,107.81 L386.73,108.41 L385.28,109.01 L383.82,109.60 L382.37,110.20 L380.92,110.80 L379.46,111.40 L378.01,111.99 L376.56,112.59 L375.10,113.19 L373.65,113.79 L372.20,114.40 L370.74,115.00 L369.29,115.61 L367.84,116.22 L366.38,116.83 L364.93,117.44 L363.48,118.05 L362.02,118.67 L360.57,119.29 L359.12,119.90 L357.66,120.52 L356.21,121.14 L354.76,121.76 L353.31,122.38 L351.85,123.01 L350.40,123.63 L348.95,124.26 L347.49,124.89 L346.04,125.52 L344.59,126.15 L343.13,126.79 L341.68,127.42 L340.23,128.06 L338.77,128.70 L337.32,129.35 L335.87,130.00 L334.41,130.65 L332.96,131.31 L331.51,131.97 L330.05,132.64 L328.60,133.31 L327.15,133.99 L325.69,134.67 L324.24,135.36 L322.79,136.05 L321.33,136.75 L319.88,137.45 L318.43,138.16 L316.97,138.87 L315.52,139.58 L314.07,140.30 L312.61,141.02 L311.16,141.75 L309.71,142.48 L308.25,143.22 L306.80,143.96 L305.35,144.71 L303.89,145.46 L302.44,146.22 L300.99,147.00 L299.53,147.78 L298.08,148.57 L296.63,149.37 L295.17,150.18 L293.72,151.01 L292.27,151.85 L290.81,152.71 L289.36,153.58 L287.91,154.48 L286.45,155.39 L285.00,156.33 L283.55,157.28 L282.09,158.26 L280.64,159.26 L279.19,160.27 L277.73,161.30 L276.28,162.34 L274.83,163.40 L273.37,164.46 L271.92,165.53 L270.47,166.61 L269.01,167.70 L267.56,168.78 L266.11,169.87 L264.65,170.96 L263.20,172.05 L261.75,173.14 L260.29,174.22 L258.84,175.31 L257.39,176.38 L255.93,177.46 L254.48,178.52 L253.03,179.58 L251.57,180.63 L250.12,181.67 L248.67,182.70 L247.21,183.72 L245.76,184.74 L244.31,185.74 L242.85,186.73 L241.40,187.71 L239.95,188.68 L238.49,189.64 L237.04,190.60 L235.59,191.55 L234.13,192.49 L232.68,193.44 L231.23,194.38 L229.77,195.33 L228.32,196.29 L226.87,197.25 L225.41,198.22 L223.96,199.21 L222.51,200.20 L221.05,201.20 L219.60,202.21 L218.15,203.23 L216.69,204.25 L215.24,205.29 L213.79,206.33 L212.33,207.38 L210.88,208.43 L209.43,209.49 L207.98,210.56 L206.52,211.63 L205.07,212.71 L203.62,213.79 L202.16,214.87 L200.71,215.96 L199.26,217.05 L197.80,218.14 L196.35,219.24 L194.90,220.33 L193.44,221.43 L191.99,222.53 L190.54,223.63 L189.08,224.72 L187.63,225.82 L186.18,226.92 L184.72,228.02 L183.27,229.11 L181.82,230.21 L180.36,231.30 L178.91,232.39 L177.46,233.48 L176.00,234.56 L174.55,235.64 L173.10,236.71 L171.64,237.78 L170.19,238.84 L168.74,239.89 L167.28,240.94 L165.83,241.98 L164.38,243.01 L162.92,244.03 L161.47,245.04 L160.02,246.04 L158.56,247.02 L157.11,248.00 L155.66,248.96 L154.20,249.91 L152.75,250.85 L151.30,251.77 L149.84,252.67 L148.39,253.57 L146.94,254.45 L145.48,255.31 L144.03,256.17 L142.58,257.01 L141.12,257.83 L139.67,258.65 L138.22,259.45 L136.76,260.23 L135.31,261.01 L133.86,261.77 L132.40,262.52 L130.95,263.26 L129.50,263.99 L128.04,264.71 L126.59,265.41 L125.14,266.11 L123.68,266.80 L122.23,267.48 L120.78,268.16 L119.32,268.82 L117.87,269.49 L116.42,270.15 L114.96,270.80 L113.51,271.45 L112.06,272.10 L110.60,272.75 L109.15,273.39 L107.70,274.04 L106.24,274.68 L104.79,275.32 L103.34,275.96 L101.88,276.60 L100.43,277.23 L98.98,277.86 L97.52,278.48 L96.07,279.10 L94.62,279.72 L93.16,280.33 L91.71,280.93 L90.26,281.53 L88.80,282.13 L87.35,282.71 L85.90,283.29 L84.44,283.87 L82.99,284.43 L81.54,284.99 L80.08,285.53 L78.63,286.07 L77.18,286.60 L75.72,287.12 L74.27,287.63 L72.82,288.14 L71.36,288.64 L69.91,289.14 L68.46,289.63 L67.00,290.13 L67.00,290.13 L68.46,289.86 L69.91,289.59 L71.36,289.32 L72.82,289.05 L74.27,288.77 L75.72,288.49 L77.18,288.19 L78.63,287.89 L80.08,287.58 L81.54,287.25 L82.99,286.92 L84.44,286.57 L85.90,286.20 L87.35,285.82 L88.80,285.42 L90.26,285.01 L91.71,284.57 L93.16,284.13 L94.62,283.66 L96.07,283.19 L97.52,282.70 L98.98,282.20 L100.43,281.69 L101.88,281.17 L103.34,280.65 L104.79,280.12 L106.24,279.58 L107.70,279.05 L109.15,278.50 L110.60,277.96 L112.06,277.42 L113.51,276.88 L114.96,276.33 L116.42,275.79 L117.87,275.24 L119.32,274.70 L120.78,274.15 L122.23,273.60 L123.68,273.05 L125.14,272.50 L126.59,271.95 L128.04,271.39 L129.50,270.83 L130.95,270.27 L132.40,269.71 L133.86,269.14 L135.31,268.57 L136.76,268.00 L138.22,267.42 L139.67,266.84 L141.12,266.25 L142.58,265.65 L144.03,265.05 L145.48,264.44 L146.94,263.81 L148.39,263.18 L149.84,262.54 L151.30,261.89 L152.75,261.23 L154.20,260.55 L155.66,259.86 L157.11,259.16 L158.56,258.45 L160.02,257.73 L161.47,257.01 L162.92,256.28 L164.38,255.55 L165.83,254.82 L167.28,254.09 L168.74,253.36 L170.19,252.64 L171.64,251.92 L173.10,251.21 L174.55,250.50 L176.00,249.80 L177.46,249.11 L178.91,248.43 L180.36,247.75 L181.82,247.08 L183.27,246.42 L184.72,245.77 L186.18,245.14 L187.63,244.51 L189.08,243.89 L190.54,243.27 L191.99,242.67 L193.44,242.08 L194.90,241.49 L196.35,240.91 L197.80,240.33 L199.26,239.76 L200.71,239.20 L202.16,238.64 L203.62,238.08 L205.07,237.52 L206.52,236.96 L207.98,236.39 L209.43,235.82 L210.88,235.24 L212.33,234.64 L213.79,234.04 L215.24,233.42 L216.69,232.80 L218.15,232.16 L219.60,231.51 L221.05,230.85 L222.51,230.18 L223.96,229.50 L225.41,228.81 L226.87,228.12 L228.32,227.41 L229.77,226.70 L231.23,225.98 L232.68,225.26 L234.13,224.53 L235.59,223.81 L237.04,223.08 L238.49,222.36 L239.95,221.64 L241.40,220.92 L242.85,220.21 L244.31,219.51 L245.76,218.81 L247.21,218.12 L248.67,217.43 L250.12,216.76 L251.57,216.09 L253.03,215.42 L254.48,214.76 L255.93,214.11 L257.39,213.46 L258.84,212.82 L260.29,212.18 L261.75,211.54 L263.20,210.90 L264.65,210.26 L266.11,209.62 L267.56,208.97 L269.01,208.32 L270.47,207.65 L271.92,206.98 L273.37,206.29 L274.83,205.59 L276.28,204.89 L277.73,204.16 L279.19,203.43 L280.64,202.68 L282.09,201.91 L283.55,201.13 L285.00,200.33 L286.45,199.51 L287.91,198.68 L289.36,197.83 L290.81,196.97 L292.27,196.09 L293.72,195.21 L295.17,194.32 L296.63,193.43 L298.08,192.53 L299.53,191.63 L300.99,190.72 L302.44,189.82 L303.89,188.91 L305.35,187.99 L306.80,187.07 L308.25,186.15 L309.71,185.21 L311.16,184.27 L312.61,183.32 L314.07,182.35 L315.52,181.38 L316.97,180.39 L318.43,179.39 L319.88,178.38 L321.33,177.36 L322.79,176.32 L324.24,175.28 L325.69,174.23 L327.15,173.17 L328.60,172.10 L330.05,171.02 L331.51,169.93 L332.96,168.84 L334.41,167.75 L335.87,166.65 L337.32,165.56 L338.77,164.46 L340.23,163.37 L341.68,162.29 L343.13,161.21 L344.59,160.14 L346.04,159.08 L347.49,158.03 L348.95,156.98 L350.40,155.94 L351.85,154.91 L353.31,153.89 L354.76,152.87 L356.21,151.85 L357.66,150.84 L359.12,149.84 L360.57,148.84 L362.02,147.84 L363.48,146.84 L364.93,145.85 L366.38,144.86 L367.84,143.86 L369.29,142.87 L370.74,141.88 L372.20,140.89 L373.65,139.90 L375.10,138.90 L376.56,137.91 L378.01,136.92 L379.46,135.92 L380.92,134.93 L382.37,133.93 L383.82,132.94 L385.28,131.95 L386.73,130.96 L388.18,129.97 L389.64,128.98 L391.09,127.99 L392.54,127.01 L394.00,126.02 L395.45,125.04 L396.90,124.06 L398.36,123.08 L399.81,122.10 L401.26,121.12 L402.72,120.14 L404.17,119.16 L405.62,118.18 L407.08,117.21 L408.53,116.23 L409.98,115.25 L411.44,114.28 L412.89,113.31 L414.34,112.33 L415.80,111.36 L417.25,110.39 L418.70,109.42 L420.16,108.45 L421.61,107.48 L423.06,106.52 L424.52,105.55 L425.97,104.59 L427.42,103.64 L428.88,102.68 L430.33,101.73 L431.78,100.78 L433.24,99.84 L434.69,98.90 L436.14,97.97 L437.60,97.04 L439.05,96.12 L440.50,95.20 L441.96,94.29 L443.41,93.39 L444.86,92.49 L446.32,91.61 L447.77,90.73 L449.22,89.86 L450.68,89.01 L452.13,88.17 L453.58,87.34 L455.04,86.53 L456.49,85.72 L457.94,84.94 L459.40,84.17 L460.85,83.42 L462.30,82.68 L463.76,81.95 L465.21,81.24 L466.66,80.54 L468.12,79.84 L469.57,79.16 L471.02,78.48 L472.48,77.80 L473.93,77.13 L475.38,76.45 L476.84,75.78 L478.29,75.11 L479.74,74.43 L481.20,73.74 L482.65,73.05 L484.10,72.36 L485.56,71.65 L487.01,70.95 L488.46,70.23 L489.92,69.52 L491.37,68.79 L492.82,68.07 L494.28,67.34 L495.73,66.61 L497.18,65.88 L498.64,65.14 L500.09,64.41 L501.54,63.67 L502.99,62.93 Z" fill="none" stroke="#2ade2a" stroke-width="4.6" stroke-linejoin="round"/>
<path d="M502.99,62.92 L501.54,63.41 L500.09,63.89 L498.64,64.38 L497.18,64.87 L495.73,65.36 L494.28,65.85 L492.82,66.34 L491.37,66.83 L489.92,67.32 L488.46,67.82 L487.01,68.32 L485.56,68.83 L484.10,69.33 L482.65,69.85 L481.20,70.36 L479.74,70.88 L478.29,71.40 L476.84,71.93 L475.38,72.46 L473.93,73.00 L472.48,73.54 L471.02,74.09 L469.57,74.65 L468.12,75.21 L466.66,75.78 L465.21,76.35 L463.76,76.93 L462.30,77.52 L460.85,78.12 L459.40,78.72 L457.94,79.33 L456.49,79.95 L455.04,80.57 L453.58,81.20 L452.13,81.83 L450.68,82.46 L449.22,83.10 L447.77,83.74 L446.32,84.37 L444.86,85.01 L443.41,85.64 L441.96,86.27 L440.50,86.89 L439.05,87.51 L437.60,88.12 L436.14,88.73 L434.69,89.33 L433.24,89.92 L431.78,90.50 L430.33,91.09 L428.88,91.66 L427.42,92.23 L425.97,92.80 L424.52,93.37 L423.06,93.93 L421.61,94.49 L420.16,95.06 L418.70,95.62 L417.25,96.18 L415.80,96.74 L414.34,97.30 L412.89,97.87 L411.44,98.44 L409.98,99.00 L408.53,99.58 L407.08,100.15 L405.62,100.72 L404.17,101.30 L402.72,101.88 L401.26,102.47 L399.81,103.05 L398.36,103.64 L396.90,104.23 L395.45,104.83 L394.00,105.42 L392.54,106.02 L391.09,106.62 L389.64,107.21 L388.18,107.81 L386.73,108.41 L385.28,109.01 L383.82,109.60 L382.37,110.20 L380.92,110.80 L379.46,111.40 L378.01,111.99 L376.56,112.59 L375.10,113.19 L373.65,113.79 L372.20,114.40 L370.74,115.00 L369.29,115.61 L367.84,116.22 L366.38,116.83 L364.93,117.44 L363.48,118.05 L362.02,118.67 L360.57,119.29 L359.12,119.90 L357.66,120.52 L356.21,121.14 L354.76,121.76 L353.31,122.38 L351.85,123.01 L350.40,123.63 L348.95,124.26 L347.49,124.89 L346.04,125.52 L344.59,126.15 L343.13,126.79 L341.68,127.42 L340.23,128.06 L338.77,128.70 L337.32,129.35 L335.87,130.00 L334.41,130.65 L332.96,131.31 L331.51,131.97 L330.05,132.64 L328.60,133.31 L327.15,133.99 L325.69,134.67 L324.24,135.36 L322.79,136.05 L321.33,136.75 L319.88,137.45 L318.43,138.16 L316.97,138.87 L315.52,139.58 L314.07,140.30 L312.61,141.02 L311.16,141.75 L309.71,142.48 L308.25,143.22 L306.80,143.96 L305.35,144.71 L303.89,145.46 L302.44,146.22 L300.99,147.00 L299.53,147.78 L298.08,148.57 L296.63,149.37 L295.17,150.18 L293.72,151.01 L292.27,151.85 L290.81,152.71 L289.36,153.58 L287.91,154.48 L286.45,155.39 L285.00,156.33 L283.55,157.28 L282.09,158.26 L280.64,159.26 L279.19,160.27 L277.73,161.30 L276.28,162.34 L274.83,163.40 L273.37,164.46 L271.92,165.53 L270.47,166.61 L269.01,167.70 L267.56,168.78 L266.11,169.87 L264.65,170.96 L263.20,172.05 L261.75,173.14 L260.29,174.22 L258.84,175.31 L257.39,176.38 L255.93,177.46 L254.48,178.52 L253.03,179.58 L251.57,180.63 L250.12,181.67 L248.67,182.70 L247.21,183.72 L245.76,184.74 L244.31,185.74 L242.85,186.73 L241.40,187.71 L239.95,188.68 L238.49,189.64 L237.04,190.60 L235.59,191.55 L234.13,192.49 L232.68,193.44 L231.23,194.38 L229.77,195.33 L228.32,196.29 L226.87,197.25 L225.41,198.22 L223.96,199.21 L222.51,200.20 L221.05,201.20 L219.60,202.21 L218.15,203.23 L216.69,204.25 L215.24,205.29 L213.79,206.33 L212.33,207.38 L210.88,208.43 L209.43,209.49 L207.98,210.56 L206.52,211.63 L205.07,212.71 L203.62,213.79 L202.16,214.87 L200.71,215.96 L199.26,217.05 L197.80,218.14 L196.35,219.24 L194.90,220.33 L193.44,221.43 L191.99,222.53 L190.54,223.63 L189.08,224.72 L187.63,225.82 L186.18,226.92 L184.72,228.02 L183.27,229.11 L181.82,230.21 L180.36,231.30 L178.91,232.39 L177.46,233.48 L176.00,234.56 L174.55,235.64 L173.10,236.71 L171.64,237.78 L170.19,238.84 L168.74,239.89 L167.28,240.94 L165.83,241.98 L164.38,243.01 L162.92,244.03 L161.47,245.04 L160.02,246.04 L158.56,247.02 L157.11,248.00 L155.66,248.96 L154.20,249.91 L152.75,250.85 L151.30,251.77 L149.84,252.67 L148.39,253.57 L146.94,254.45 L145.48,255.31 L144.03,256.17 L142.58,257.01 L141.12,257.83 L139.67,258.65 L138.22,259.45 L136.76,260.23 L135.31,261.01 L133.86,261.77 L132.40,262.52 L130.95,263.26 L129.50,263.99 L128.04,264.71 L126.59,265.41 L125.14,266.11 L123.68,266.80 L122.23,267.48 L120.78,268.16 L119.32,268.82 L117.87,269.49 L116.42,270.15 L114.96,270.80 L113.51,271.45 L112.06,272.10 L110.60,272.75 L109.15,273.39 L107.70,274.04 L106.24,274.68 L104.79,275.32 L103.34,275.96 L101.88,276.60 L100.43,277.23 L98.98,277.86 L97.52,278.48 L96.07,279.10 L94.62,279.72 L93.16,280.33 L91.71,280.93 L90.26,281.53 L88.80,282.13 L87.35,282.71 L85.90,283.29 L84.44,283.87 L82.99,284.43 L81.54,284.99 L80.08,285.53 L78.63,286.07 L77.18,286.60 L75.72,287.12 L74.27,287.63 L72.82,288.14 L71.36,288.64 L69.91,289.14 L68.46,289.63 L67.00,290.13 L67.00,290.13 L68.46,289.86 L69.91,289.59 L71.36,289.32 L72.82,289.05 L74.27,288.77 L75.72,288.49 L77.18,288.19 L78.63,287.89 L80.08,287.58 L81.54,287.25 L82.99,286.92 L84.44,286.57 L85.90,286.20 L87.35,285.82 L88.80,285.42 L90.26,285.01 L91.71,284.57 L93.16,284.13 L94.62,283.66 L96.07,283.19 L97.52,282.70 L98.98,282.20 L100.43,281.69 L101.88,281.17 L103.34,280.65 L104.79,280.12 L106.24,279.58 L107.70,279.05 L109.15,278.50 L110.60,277.96 L112.06,277.42 L113.51,276.88 L114.96,276.33 L116.42,275.79 L117.87,275.24 L119.32,274.70 L120.78,274.15 L122.23,273.60 L123.68,273.05 L125.14,272.50 L126.59,271.95 L128.04,271.39 L129.50,270.83 L130.95,270.27 L132.40,269.71 L133.86,269.14 L135.31,268.57 L136.76,268.00 L138.22,267.42 L139.67,266.84 L141.12,266.25 L142.58,265.65 L144.03,265.05 L145.48,264.44 L146.94,263.81 L148.39,263.18 L149.84,262.54 L151.30,261.89 L152.75,261.23 L154.20,260.55 L155.66,259.86 L157.11,259.16 L158.56,258.45 L160.02,257.73 L161.47,257.01 L162.92,256.28 L164.38,255.55 L165.83,254.82 L167.28,254.09 L168.74,253.36 L170.19,252.64 L171.64,251.92 L173.10,251.21 L174.55,250.50 L176.00,249.80 L177.46,249.11 L178.91,248.43 L180.36,247.75 L181.82,247.08 L183.27,246.42 L184.72,245.77 L186.18,245.14 L187.63,244.51 L189.08,243.89 L190.54,243.27 L191.99,242.67 L193.44,242.08 L194.90,241.49 L196.35,240.91 L197.80,240.33 L199.26,239.76 L200.71,239.20 L202.16,238.64 L203.62,238.08 L205.07,237.52 L206.52,236.96 L207.98,236.39 L209.43,235.82 L210.88,235.24 L212.33,234.64 L213.79,234.04 L215.24,233.42 L216.69,232.80 L218.15,232.16 L219.60,231.51 L221.05,230.85 L222.51,230.18 L223.96,229.50 L225.41,228.81 L226.87,228.12 L228.32,227.41 L229.77,226.70 L231.23,225.98 L232.68,225.26 L234.13,224.53 L235.59,223.81 L237.04,223.08 L238.49,222.36 L239.95,221.64 L241.40,220.92 L242.85,220.21 L244.31,219.51 L245.76,218.81 L247.21,218.12 L248.67,217.43 L250.12,216.76 L251.57,216.09 L253.03,215.42 L254.48,214.76 L255.93,214.11 L257.39,213.46 L258.84,212.82 L260.29,212.18 L261.75,211.54 L263.20,210.90 L264.65,210.26 L266.11,209.62 L267.56,208.97 L269.01,208.32 L270.47,207.65 L271.92,206.98 L273.37,206.29 L274.83,205.59 L276.28,204.89 L277.73,204.16 L279.19,203.43 L280.64,202.68 L282.09,201.91 L283.55,201.13 L285.00,200.33 L286.45,199.51 L287.91,198.68 L289.36,197.83 L290.81,196.97 L292.27,196.09 L293.72,195.21 L295.17,194.32 L296.63,193.43 L298.08,192.53 L299.53,191.63 L300.99,190.72 L302.44,189.82 L303.89,188.91 L305.35,187.99 L306.80,187.07 L308.25,186.15 L309.71,185.21 L311.16,184.27 L312.61,183.32 L314.07,182.35 L315.52,181.38 L316.97,180.39 L318.43,179.39 L319.88,178.38 L321.33,177.36 L322.79,176.32 L324.24,175.28 L325.69,174.23 L327.15,173.17 L328.60,172.10 L330.05,171.02 L331.51,169.93 L332.96,168.84 L334.41,167.75 L335.87,166.65 L337.32,165.56 L338.77,164.46 L340.23,163.37 L341.68,162.29 L343.13,161.21 L344.59,160.14 L346.04,159.08 L347.49,158.03 L348.95,156.98 L350.40,155.94 L351.85,154.91 L353.31,153.89 L354.76,152.87 L356.21,151.85 L357.66,150.84 L359.12,149.84 L360.57,148.84 L362.02,147.84 L363.48,146.84 L364.93,145.85 L366.38,144.86 L367.84,143.86 L369.29,142.87 L370.74,141.88 L372.20,140.89 L373.65,139.90 L375.10,138.90 L376.56,137.91 L378.01,136.92 L379.46,135.92 L380.92,134.93 L382.37,133.93 L383.82,132.94 L385.28,131.95 L386.73,130.96 L388.18,129.97 L389.64,128.98 L391.09,127.99 L392.54,127.01 L394.00,126.02 L395.45,125.04 L396.90,124.06 L398.36,123.08 L399.81,122.10 L401.26,121.12 L402.72,120.14 L404.17,119.16 L405.62,118.18 L407.08,117.21 L408.53,116.23 L409.98,115.25 L411.44,114.28 L412.89,113.31 L414.34,112.33 L415.80,111.36 L417.25,110.39 L418.70,109.42 L420.16,108.45 L421.61,107.48 L423.06,106.52 L424.52,105.55 L425.97,104.59 L427.42,103.64 L428.88,102.68 L430.33,101.73 L431.78,100.78 L433.24,99.84 L434.69,98.90 L436.14,97.97 L437.60,97.04 L439.05,96.12 L440.50,95.20 L441.96,94.29 L443.41,93.39 L444.86,92.49 L446.32,91.61 L447.77,90.73 L449.22,89.86 L450.68,89.01 L452.13,88.17 L453.58,87.34 L455.04,86.53 L456.49,85.72 L457.94,84.94 L459.40,84.17 L460.85,83.42 L462.30,82.68 L463.76,81.95 L465.21,81.24 L466.66,80.54 L468.12,79.84 L469.57,79.16 L471.02,78.48 L472.48,77.80 L473.93,77.13 L475.38,76.45 L476.84,75.78 L478.29,75.11 L479.74,74.43 L481.20,73.74 L482.65,73.05 L484.10,72.36 L485.56,71.65 L487.01,70.95 L488.46,70.23 L489.92,69.52 L491.37,68.79 L492.82,68.07 L494.28,67.34 L495.73,66.61 L497.18,65.88 L498.64,65.14 L500.09,64.41 L501.54,63.67 L502.99,62.93 Z" fill="none" stroke="#8ef08e" stroke-width="1.0" stroke-dasharray="2 2"/>
<path d="M502.99,69.20 L501.54,69.85 L500.09,70.49 L498.64,71.14 L497.18,71.78 L495.73,72.43 L494.28,73.08 L492.82,73.73 L491.37,74.39 L489.92,75.04 L488.46,75.70 L487.01,76.37 L485.56,77.03 L484.10,77.70 L482.65,78.38 L481.20,79.06 L479.74,79.75 L478.29,80.44 L476.84,81.13 L475.38,81.83 L473.93,82.54 L472.48,83.25 L471.02,83.96 L469.57,84.68 L468.12,85.40 L466.66,86.12 L465.21,86.85 L463.76,87.58 L462.30,88.32 L460.85,89.06 L459.40,89.80 L457.94,90.54 L456.49,91.29 L455.04,92.04 L453.58,92.79 L452.13,93.54 L450.68,94.30 L449.22,95.05 L447.77,95.81 L446.32,96.56 L444.86,97.32 L443.41,98.07 L441.96,98.83 L440.50,99.58 L439.05,100.33 L437.60,101.08 L436.14,101.83 L434.69,102.58 L433.24,103.33 L431.78,104.07 L430.33,104.81 L428.88,105.55 L427.42,106.29 L425.97,107.03 L424.52,107.76 L423.06,108.50 L421.61,109.23 L420.16,109.96 L418.70,110.68 L417.25,111.41 L415.80,112.13 L414.34,112.85 L412.89,113.57 L411.44,114.28 L409.98,115.00 L408.53,115.70 L407.08,116.41 L405.62,117.11 L404.17,117.80 L402.72,118.49 L401.26,119.18 L399.81,119.86 L398.36,120.53 L396.90,121.20 L395.45,121.86 L394.00,122.52 L392.54,123.17 L391.09,123.82 L389.64,124.47 L388.18,125.12 L386.73,125.76 L385.28,126.41 L383.82,127.05 L382.37,127.69 L380.92,128.33 L379.46,128.98 L378.01,129.62 L376.56,130.26 L375.10,130.90 L373.65,131.54 L372.20,132.19 L370.74,132.84 L369.29,133.48 L367.84,134.13 L366.38,134.78 L364.93,135.43 L363.48,136.08 L362.02,136.73 L360.57,137.38 L359.12,138.03 L357.66,138.67 L356.21,139.32 L354.76,139.96 L353.31,140.60 L351.85,141.24 L350.40,141.88 L348.95,142.52 L347.49,143.16 L346.04,143.80 L344.59,144.44 L343.13,145.07 L341.68,145.71 L340.23,146.35 L338.77,146.99 L337.32,147.64 L335.87,148.28 L334.41,148.93 L332.96,149.57 L331.51,150.23 L330.05,150.88 L328.60,151.54 L327.15,152.20 L325.69,152.87 L324.24,153.54 L322.79,154.22 L321.33,154.90 L319.88,155.58 L318.43,156.27 L316.97,156.96 L315.52,157.65 L314.07,158.35 L312.61,159.05 L311.16,159.75 L309.71,160.46 L308.25,161.16 L306.80,161.87 L305.35,162.58 L303.89,163.29 L302.44,164.01 L300.99,164.72 L299.53,165.43 L298.08,166.14 L296.63,166.85 L295.17,167.56 L293.72,168.27 L292.27,168.98 L290.81,169.70 L289.36,170.41 L287.91,171.13 L286.45,171.84 L285.00,172.57 L283.55,173.29 L282.09,174.02 L280.64,174.75 L279.19,175.49 L277.73,176.23 L276.28,176.97 L274.83,177.72 L273.37,178.47 L271.92,179.23 L270.47,179.99 L269.01,180.76 L267.56,181.54 L266.11,182.32 L264.65,183.11 L263.20,183.90 L261.75,184.70 L260.29,185.51 L258.84,186.32 L257.39,187.14 L255.93,187.96 L254.48,188.79 L253.03,189.62 L251.57,190.46 L250.12,191.31 L248.67,192.15 L247.21,193.00 L245.76,193.85 L244.31,194.70 L242.85,195.54 L241.40,196.39 L239.95,197.23 L238.49,198.06 L237.04,198.90 L235.59,199.72 L234.13,200.54 L232.68,201.36 L231.23,202.17 L229.77,202.97 L228.32,203.76 L226.87,204.54 L225.41,205.32 L223.96,206.08 L222.51,206.84 L221.05,207.59 L219.60,208.34 L218.15,209.08 L216.69,209.82 L215.24,210.56 L213.79,211.30 L212.33,212.04 L210.88,212.78 L209.43,213.53 L207.98,214.27 L206.52,215.02 L205.07,215.78 L203.62,216.54 L202.16,217.30 L200.71,218.07 L199.26,218.85 L197.80,219.64 L196.35,220.43 L194.90,221.23 L193.44,222.04 L191.99,222.86 L190.54,223.68 L189.08,224.51 L187.63,225.35 L186.18,226.19 L184.72,227.04 L183.27,227.89 L181.82,228.75 L180.36,229.61 L178.91,230.47 L177.46,231.34 L176.00,232.21 L174.55,233.08 L173.10,233.96 L171.64,234.84 L170.19,235.72 L168.74,236.60 L167.28,237.48 L165.83,238.36 L164.38,239.24 L162.92,240.12 L161.47,240.99 L160.02,241.86 L158.56,242.73 L157.11,243.59 L155.66,244.45 L154.20,245.29 L152.75,246.14 L151.30,246.97 L149.84,247.79 L148.39,248.61 L146.94,249.42 L145.48,250.22 L144.03,251.02 L142.58,251.80 L141.12,252.58 L139.67,253.36 L138.22,254.12 L136.76,254.88 L135.31,255.63 L133.86,256.38 L132.40,257.12 L130.95,257.85 L129.50,258.57 L128.04,259.29 L126.59,260.01 L125.14,260.72 L123.68,261.43 L122.23,262.14 L120.78,262.84 L119.32,263.54 L117.87,264.25 L116.42,264.95 L114.96,265.65 L113.51,266.35 L112.06,267.06 L110.60,267.77 L109.15,268.48 L107.70,269.19 L106.24,269.91 L104.79,270.62 L103.34,271.32 L101.88,272.02 L100.43,272.71 L98.98,273.39 L97.52,274.06 L96.07,274.71 L94.62,275.35 L93.16,275.97 L91.71,276.56 L90.26,277.14 L88.80,277.69 L87.35,278.22 L85.90,278.72 L84.44,279.20 L82.99,279.65 L81.54,280.08 L80.08,280.48 L78.63,280.86 L77.18,281.22 L75.72,281.56 L74.27,281.88 L72.82,282.18 L71.36,282.47 L69.91,282.75 L68.46,283.03 L67.00,283.30 L67.00,283.30 L68.46,283.10 L69.91,282.89 L71.36,282.67 L72.82,282.45 L74.27,282.22 L75.72,281.97 L77.18,281.70 L78.63,281.41 L80.08,281.10 L81.54,280.76 L82.99,280.40 L84.44,280.01 L85.90,279.60 L87.35,279.16 L88.80,278.70 L90.26,278.20 L91.71,277.68 L93.16,277.14 L94.62,276.57 L96.07,275.99 L97.52,275.38 L98.98,274.76 L100.43,274.13 L101.88,273.48 L103.34,272.83 L104.79,272.16 L106.24,271.49 L107.70,270.82 L109.15,270.15 L110.60,269.47 L112.06,268.80 L113.51,268.13 L114.96,267.47 L116.42,266.80 L117.87,266.13 L119.32,265.47 L120.78,264.80 L122.23,264.14 L123.68,263.47 L125.14,262.80 L126.59,262.13 L128.04,261.45 L129.50,260.77 L130.95,260.09 L132.40,259.40 L133.86,258.71 L135.31,258.01 L136.76,257.31 L138.22,256.60 L139.67,255.89 L141.12,255.17 L142.58,254.45 L144.03,253.72 L145.48,252.99 L146.94,252.26 L148.39,251.52 L149.84,250.77 L151.30,250.03 L152.75,249.27 L154.20,248.51 L155.66,247.75 L157.11,246.99 L158.56,246.22 L160.02,245.44 L161.47,244.66 L162.92,243.87 L164.38,243.08 L165.83,242.28 L167.28,241.48 L168.74,240.67 L170.19,239.85 L171.64,239.03 L173.10,238.21 L174.55,237.38 L176.00,236.54 L177.46,235.71 L178.91,234.88 L180.36,234.04 L181.82,233.21 L183.27,232.38 L184.72,231.55 L186.18,230.73 L187.63,229.91 L189.08,229.10 L190.54,228.30 L191.99,227.50 L193.44,226.72 L194.90,225.95 L196.35,225.19 L197.80,224.44 L199.26,223.71 L200.71,223.00 L202.16,222.29 L203.62,221.60 L205.07,220.93 L206.52,220.26 L207.98,219.61 L209.43,218.97 L210.88,218.34 L212.33,217.71 L213.79,217.10 L215.24,216.50 L216.69,215.90 L218.15,215.30 L219.60,214.72 L221.05,214.13 L222.51,213.55 L223.96,212.97 L225.41,212.40 L226.87,211.82 L228.32,211.24 L229.77,210.66 L231.23,210.08 L232.68,209.50 L234.13,208.91 L235.59,208.32 L237.04,207.73 L238.49,207.12 L239.95,206.52 L241.40,205.90 L242.85,205.28 L244.31,204.65 L245.76,204.02 L247.21,203.37 L248.67,202.73 L250.12,202.07 L251.57,201.41 L253.03,200.75 L254.48,200.08 L255.93,199.40 L257.39,198.72 L258.84,198.04 L260.29,197.35 L261.75,196.66 L263.20,195.97 L264.65,195.27 L266.11,194.57 L267.56,193.86 L269.01,193.15 L270.47,192.44 L271.92,191.72 L273.37,191.01 L274.83,190.29 L276.28,189.56 L277.73,188.84 L279.19,188.12 L280.64,187.39 L282.09,186.66 L283.55,185.94 L285.00,185.21 L286.45,184.48 L287.91,183.76 L289.36,183.03 L290.81,182.30 L292.27,181.58 L293.72,180.85 L295.17,180.12 L296.63,179.40 L298.08,178.67 L299.53,177.94 L300.99,177.21 L302.44,176.48 L303.89,175.75 L305.35,175.01 L306.80,174.27 L308.25,173.52 L309.71,172.77 L311.16,172.00 L312.61,171.23 L314.07,170.45 L315.52,169.66 L316.97,168.85 L318.43,168.04 L319.88,167.21 L321.33,166.38 L322.79,165.53 L324.24,164.67 L325.69,163.81 L327.15,162.93 L328.60,162.04 L330.05,161.15 L331.51,160.24 L332.96,159.33 L334.41,158.41 L335.87,157.48 L337.32,156.55 L338.77,155.62 L340.23,154.67 L341.68,153.73 L343.13,152.78 L344.59,151.84 L346.04,150.89 L347.49,149.94 L348.95,149.00 L350.40,148.07 L351.85,147.14 L353.31,146.23 L354.76,145.32 L356.21,144.43 L357.66,143.56 L359.12,142.70 L360.57,141.86 L362.02,141.04 L363.48,140.23 L364.93,139.44 L366.38,138.67 L367.84,137.90 L369.29,137.16 L370.74,136.43 L372.20,135.71 L373.65,135.00 L375.10,134.31 L376.56,133.62 L378.01,132.94 L379.46,132.28 L380.92,131.61 L382.37,130.95 L383.82,130.30 L385.28,129.64 L386.73,128.99 L388.18,128.33 L389.64,127.67 L391.09,127.01 L392.54,126.35 L394.00,125.68 L395.45,125.00 L396.90,124.31 L398.36,123.62 L399.81,122.92 L401.26,122.21 L402.72,121.49 L404.17,120.76 L405.62,120.02 L407.08,119.27 L408.53,118.52 L409.98,117.76 L411.44,117.00 L412.89,116.24 L414.34,115.48 L415.80,114.72 L417.25,113.96 L418.70,113.20 L420.16,112.44 L421.61,111.68 L423.06,110.93 L424.52,110.17 L425.97,109.42 L427.42,108.67 L428.88,107.92 L430.33,107.16 L431.78,106.41 L433.24,105.66 L434.69,104.91 L436.14,104.15 L437.60,103.40 L439.05,102.65 L440.50,101.89 L441.96,101.14 L443.41,100.38 L444.86,99.63 L446.32,98.87 L447.77,98.11 L449.22,97.35 L450.68,96.60 L452.13,95.84 L453.58,95.08 L455.04,94.32 L456.49,93.56 L457.94,92.80 L459.40,92.04 L460.85,91.28 L462.30,90.52 L463.76,89.76 L465.21,89.00 L466.66,88.24 L468.12,87.48 L469.57,86.72 L471.02,85.96 L472.48,85.20 L473.93,84.43 L475.38,83.67 L476.84,82.91 L478.29,82.15 L479.74,81.39 L481.20,80.63 L482.65,79.87 L484.10,79.10 L485.56,78.34 L487.01,77.58 L488.46,76.82 L489.92,76.06 L491.37,75.30 L492.82,74.54 L494.28,73.77 L495.73,73.01 L497.18,72.25 L498.64,71.49 L500.09,70.73 L501.54,69.97 L502.99,69.21 Z" fill="none" stroke="#141414" stroke-width="4.6" stroke-linejoin="round"/>
<path d="M502.99,69.20 L501.54,69.85 L500.09,70.49 L498.64,71.14 L497.18,71.78 L495.73,72.43 L494.28,73.08 L492.82,73.73 L491.37,74.39 L489.92,75.04 L488.46,75.70 L487.01,76.37 L485.56,77.03 L484.10,77.70 L482.65,78.38 L481.20,79.06 L479.74,79.75 L478.29,80.44 L476.84,81.13 L475.38,81.83 L473.93,82.54 L472.48,83.25 L471.02,83.96 L469.57,84.68 L468.12,85.40 L466.66,86.12 L465.21,86.85 L463.76,87.58 L462.30,88.32 L460.85,89.06 L459.40,89.80 L457.94,90.54 L456.49,91.29 L455.04,92.04 L453.58,92.79 L452.13,93.54 L450.68,94.30 L449.22,95.05 L447.77,95.81 L446.32,96.56 L444.86,97.32 L443.41,98.07 L441.96,98.83 L440.50,99.58 L439.05,100.33 L437.60,101.08 L436.14,101.83 L434.69,102.58 L433.24,103.33 L431.78,104.07 L430.33,104.81 L428.88,105.55 L427.42,106.29 L425.97,107.03 L424.52,107.76 L423.06,108.50 L421.61,109.23 L420.16,109.96 L418.70,110.68 L417.25,111.41 L415.80,112.13 L414.34,112.85 L412.89,113.57 L411.44,114.28 L409.98,115.00 L408.53,115.70 L407.08,116.41 L405.62,117.11 L404.17,117.80 L402.72,118.49 L401.26,119.18 L399.81,119.86 L398.36,120.53 L396.90,121.20 L395.45,121.86 L394.00,122.52 L392.54,123.17 L391.09,123.82 L389.64,124.47 L388.18,125.12 L386.73,125.76 L385.28,126.41 L383.82,127.05 L382.37,127.69 L380.92,128.33 L379.46,128.98 L378.01,129.62 L376.56,130.26 L375.10,130.90 L373.65,131.54 L372.20,132.19 L370.74,132.84 L369.29,133.48 L367.84,134.13 L366.38,134.78 L364.93,135.43 L363.48,136.08 L362.02,136.73 L360.57,137.38 L359.12,138.03 L357.66,138.67 L356.21,139.32 L354.76,139.96 L353.31,140.60 L351.85,141.24 L350.40,141.88 L348.95,142.52 L347.49,143.16 L346.04,143.80 L344.59,144.44 L343.13,145.07 L341.68,145.71 L340.23,146.35 L338.77,146.99 L337.32,147.64 L335.87,148.28 L334.41,148.93 L332.96,149.57 L331.51,150.23 L330.05,150.88 L328.60,151.54 L327.15,152.20 L325.69,152.87 L324.24,153.54 L322.79,154.22 L321.33,154.90 L319.88,155.58 L318.43,156.27 L316.97,156.96 L315.52,157.65 L314.07,158.35 L312.61,159.05 L311.16,159.75 L309.71,160.46 L308.25,161.16 L306.80,161.87 L305.35,162.58 L303.89,163.29 L302.44,164.01 L300.99,164.72 L299.53,165.43 L298.08,166.14 L296.63,166.85 L295.17,167.56 L293.72,168.27 L292.27,168.98 L290.81,169.70 L289.36,170.41 L287.91,171.13 L286.45,171.84 L285.00,172.57 L283.55,173.29 L282.09,174.02 L280.64,174.75 L279.19,175.49 L277.73,176.23 L276.28,176.97 L274.83,177.72 L273.37,178.47 L271.92,179.23 L270.47,179.99 L269.01,180.76 L267.56,181.54 L266.11,182.32 L264.65,183.11 L263.20,183.90 L261.75,184.70 L260.29,185.51 L258.84,186.32 L257.39,187.14 L255.93,187.96 L254.48,188.79 L253.03,189.62 L251.57,190.46 L250.12,191.31 L248.67,192.15 L247.21,193.00 L245.76,193.85 L244.31,194.70 L242.85,195.54 L241.40,196.39 L239.95,197.23 L238.49,198.06 L237.04,198.90 L235.59,199.72 L234.13,200.54 L232.68,201.36 L231.23,202.17 L229.77,202.97 L228.32,203.76 L226.87,204.54 L225.41,205.32 L223.96,206.08 L222.51,206.84 L221.05,207.59 L219.60,208.34 L218.15,209.08 L216.69,209.82 L215.24,210.56 L213.79,211.30 L212.33,212.04 L210.88,212.78 L209.43,213.53 L207.98,214.27 L206.52,215.02 L205.07,215.78 L203.62,216.54 L202.16,217.30 L200.71,218.07 L199.26,218.85 L197.80,219.64 L196.35,220.43 L194.90,221.23 L193.44,222.04 L191.99,222.86 L190.54,223.68 L189.08,224.51 L187.63,225.35 L186.18,226.19 L184.72,227.04 L183.27,227.89 L181.82,228.75 L180.36,229.61 L178.91,230.47 L177.46,231.34 L176.00,232.21 L174.55,233.08 L173.10,233.96 L171.64,234.84 L170.19,235.72 L168.74,236.60 L167.28,237.48 L165.83,238.36 L164.38,239.24 L162.92,240.12 L161.47,240.99 L160.02,241.86 L158.56,242.73 L157.11,243.59 L155.66,244.45 L154.20,245.29 L152.75,246.14 L151.30,246.97 L149.84,247.79 L148.39,248.61 L146.94,249.42 L145.48,250.22 L144.03,251.02 L142.58,251.80 L141.12,252.58 L139.67,253.36 L138.22,254.12 L136.76,254.88 L135.31,255.63 L133.86,256.38 L132.40,257.12 L130.95,257.85 L129.50,258.57 L128.04,259.29 L126.59,260.01 L125.14,260.72 L123.68,261.43 L122.23,262.14 L120.78,262.84 L119.32,263.54 L117.87,264.25 L116.42,264.95 L114.96,265.65 L113.51,266.35 L112.06,267.06 L110.60,267.77 L109.15,268.48 L107.70,269.19 L106.24,269.91 L104.79,270.62 L103.34,271.32 L101.88,272.02 L100.43,272.71 L98.98,273.39 L97.52,274.06 L96.07,274.71 L94.62,275.35 L93.16,275.97 L91.71,276.56 L90.26,277.14 L88.80,277.69 L87.35,278.22 L85.90,278.72 L84.44,279.20 L82.99,279.65 L81.54,280.08 L80.08,280.48 L78.63,280.86 L77.18,281.22 L75.72,281.56 L74.27,281.88 L72.82,282.18 L71.36,282.47 L69.91,282.75 L68.46,283.03 L67.00,283.30 L67.00,283.30 L68.46,283.10 L69.91,282.89 L71.36,282.67 L72.82,282.45 L74.27,282.22 L75.72,281.97 L77.18,281.70 L78.63,281.41 L80.08,281.10 L81.54,280.76 L82.99,280.40 L84.44,280.01 L85.90,279.60 L87.35,279.16 L88.80,278.70 L90.26,278.20 L91.71,277.68 L93.16,277.14 L94.62,276.57 L96.07,275.99 L97.52,275.38 L98.98,274.76 L100.43,274.13 L101.88,273.48 L103.34,272.83 L104.79,272.16 L106.24,271.49 L107.70,270.82 L109.15,270.15 L110.60,269.47 L112.06,268.80 L113.51,268.13 L114.96,267.47 L116.42,266.80 L117.87,266.13 L119.32,265.47 L120.78,264.80 L122.23,264.14 L123.68,263.47 L125.14,262.80 L126.59,262.13 L128.04,261.45 L129.50,260.77 L130.95,260.09 L132.40,259.40 L133.86,258.71 L135.31,258.01 L136.76,257.31 L138.22,256.60 L139.67,255.89 L141.12,255.17 L142.58,254.45 L144.03,253.72 L145.48,252.99 L146.94,252.26 L148.39,251.52 L149.84,250.77 L151.30,250.03 L152.75,249.27 L154.20,248.51 L155.66,247.75 L157.11,246.99 L158.56,246.22 L160.02,245.44 L161.47,244.66 L162.92,243.87 L164.38,243.08 L165.83,242.28 L167.28,241.48 L168.74,240.67 L170.19,239.85 L171.64,239.03 L173.10,238.21 L174.55,237.38 L176.00,236.54 L177.46,235.71 L178.91,234.88 L180.36,234.04 L181.82,233.21 L183.27,232.38 L184.72,231.55 L186.18,230.73 L187.63,229.91 L189.08,229.10 L190.54,228.30 L191.99,227.50 L193.44,226.72 L194.90,225.95 L196.35,225.19 L197.80,224.44 L199.26,223.71 L200.71,223.00 L202.16,222.29 L203.62,221.60 L205.07,220.93 L206.52,220.26 L207.98,219.61 L209.43,218.97 L210.88,218.34 L212.33,217.71 L213.79,217.10 L215.24,216.50 L216.69,215.90 L218.15,215.30 L219.60,214.72 L221.05,214.13 L222.51,213.55 L223.96,212.97 L225.41,212.40 L226.87,211.82 L228.32,211.24 L229.77,210.66 L231.23,210.08 L232.68,209.50 L234.13,208.91 L235.59,208.32 L237.04,207.73 L238.49,207.12 L239.95,206.52 L241.40,205.90 L242.85,205.28 L244.31,204.65 L245.76,204.02 L247.21,203.37 L248.67,202.73 L250.12,202.07 L251.57,201.41 L253.03,200.75 L254.48,200.08 L255.93,199.40 L257.39,198.72 L258.84,198.04 L260.29,197.35 L261.75,196.66 L263.20,195.97 L264.65,195.27 L266.11,194.57 L267.56,193.86 L269.01,193.15 L270.47,192.44 L271.92,191.72 L273.37,191.01 L274.83,190.29 L276.28,189.56 L277.73,188.84 L279.19,188.12 L280.64,187.39 L282.09,186.66 L283.55,185.94 L285.00,185.21 L286.45,184.48 L287.91,183.76 L289.36,183.03 L290.81,182.30 L292.27,181.58 L293.72,180.85 L295.17,180.12 L296.63,179.40 L298.08,178.67 L299.53,177.94 L300.99,177.21 L302.44,176.48 L303.89,175.75 L305.35,175.01 L306.80,174.27 L308.25,173.52 L309.71,172.77 L311.16,172.00 L312.61,171.23 L314.07,170.45 L315.52,169.66 L316.97,168.85 L318.43,168.04 L319.88,167.21 L321.33,166.38 L322.79,165.53 L324.24,164.67 L325.69,163.81 L327.15,162.93 L328.60,162.04 L330.05,161.15 L331.51,160.24 L332.96,159.33 L334.41,158.41 L335.87,157.48 L337.32,156.55 L338.77,155.62 L340.23,154.67 L341.68,153.73 L343.13,152.78 L344.59,151.84 L346.04,150.89 L347.49,149.94 L348.95,149.00 L350.40,148.07 L351.85,147.14 L353.31,146.23 L354.76,145.32 L356.21,144.43 L357.66,143.56 L359.12,142.70 L360.57,141.86 L362.02,141.04 L363.48,140.23 L364.93,139.44 L366.38,138.67 L367.84,137.90 L369.29,137.16 L370.74,136.43 L372.20,135.71 L373.65,135.00 L375.10,134.31 L376.56,133.62 L378.01,132.94 L379.46,132.28 L380.92,131.61 L382.37,130.95 L383.82,130.30 L385.28,129.64 L386.73,128.99 L388.18,128.33 L389.64,127.67 L391.09,127.01 L392.54,126.35 L394.00,125.68 L395.45,125.00 L396.90,124.31 L398.36,123.62 L399.81,122.92 L401.26,122.21 L402.72,121.49 L404.17,120.76 L405.62,120.02 L407.08,119.27 L408.53,118.52 L409.98,117.76 L411.44,117.00 L412.89,116.24 L414.34,115.48 L415.80,114.72 L417.25,113.96 L418.70,113.20 L420.16,112.44 L421.61,111.68 L423.06,110.93 L424.52,110.17 L425.97,109.42 L427.42,108.67 L428.88,107.92 L430.33,107.16 L431.78,106.41 L433.24,105.66 L434.69,104.91 L436.14,104.15 L437.60,103.40 L439.05,102.65 L440.50,101.89 L441.96,101.14 L443.41,100.38 L444.86,99.63 L446.32,98.87 L447.77,98.11 L449.22,97.35 L450.68,96.60 L452.13,95.84 L453.58,95.08 L455.04,94.32 L456.49,93.56 L457.94,92.80 L459.40,92.04 L460.85,91.28 L462.30,90.52 L463.76,89.76 L465.21,89.00 L466.66,88.24 L468.12,87.48 L469.57,86.72 L471.02,85.96 L472.48,85.20 L473.93,84.43 L475.38,83.67 L476.84,82.91 L478.29,82.15 L479.74,81.39 L481.20,80.63 L482.65,79.87 L484.10,79.10 L485.56,78.34 L487.01,77.58 L488.46,76.82 L489.92,76.06 L491.37,75.30 L492.82,74.54 L494.28,73.77 L495.73,73.01 L497.18,72.25 L498.64,71.49 L500.09,70.73 L501.54,69.97 L502.99,69.21 Z" fill="none" stroke="#d0d0d0" stroke-width="1.5" stroke-dasharray="2.4 1.4"/>
<circle cx="502.69" cy="39.52" r="1.2" fill="#fff"/>
<circle cx="502.69" cy="29.82" r="1.2" fill="#fff"/>
<circle cx="502.69" cy="62.93" r="1.2" fill="#fff"/>
<circle cx="502.69" cy="69.20" r="1.2" fill="#fff"/>
<line x1="67.00" y1="350" x2="67.00" y2="344" stroke="#000" stroke-width="1.5"/>
<line x1="88.80" y1="350" x2="88.80" y2="347" stroke="#000" stroke-width="1.5"/>
<line x1="110.60" y1="350" x2="110.60" y2="344" stroke="#000" stroke-width="1.5"/>
<line x1="132.40" y1="350" x2="132.40" y2="347" stroke="#000" stroke-width="1.5"/>
<line x1="154.20" y1="350" x2="154.20" y2="344" stroke="#000" stroke-width="1.5"/>
<line x1="176.00" y1="350" x2="176.00" y2="347" stroke="#000" stroke-width="1.5"/>
<line x1="197.80" y1="350" x2="197.80" y2="344" stroke="#000" stroke-width="1.5"/>
<line x1="219.60" y1="350" x2="219.60" y2="347" stroke="#000" stroke-width="1.5"/>
<line x1="241.40" y1="350" x2="241.40" y2="344" stroke="#000" stroke-width="1.5"/>
<line x1="263.20" y1="350" x2="263.20" y2="347" stroke="#000" stroke-width="1.5"/>
<line x1="285.00" y1="350" x2="285.00" y2="344" stroke="#000" stroke-width="1.5"/>
<line x1="306.80" y1="350" x2="306.80" y2="347" stroke="#000" stroke-width="1.5"/>
<line x1="328.60" y1="350" x2="328.60" y2="344" stroke="#000" stroke-width="1.5"/>
<line x1="350.40" y1="350" x2="350.40" y2="347" stroke="#000" stroke-width="1.5"/>
<line x1="372.20" y1="350" x2="372.20" y2="344" stroke="#000" stroke-width="1.5"/>
<line x1="394.00" y1="350" x2="394.00" y2="347" stroke="#000" stroke-width="1.5"/>
<line x1="415.80" y1="350" x2="415.80" y2="344" stroke="#000" stroke-width="1.5"/>
<line x1="437.60" y1="350" x2="437.60" y2="347" stroke="#000" stroke-width="1.5"/>
<line x1="459.40" y1="350" x2="459.40" y2="344" stroke="#000" stroke-width="1.5"/>
<line x1="481.20" y1="350" x2="481.20" y2="347" stroke="#000" stroke-width="1.5"/>
<line x1="503.00" y1="350" x2="503.00" y2="344" stroke="#000" stroke-width="1.5"/>
<line x1="53" y1="350.04" x2="58.5" y2="350.04" stroke="#000" stroke-width="1.5"/>
<line x1="53" y1="321.50" x2="56" y2="321.50" stroke="#000" stroke-width="1.5"/>
<line x1="53" y1="292.96" x2="58.5" y2="292.96" stroke="#000" stroke-width="1.5"/>
<line x1="53" y1="264.42" x2="56" y2="264.42" stroke="#000" stroke-width="1.5"/>
<line x1="53" y1="235.88" x2="58.5" y2="235.88" stroke="#000" stroke-width="1.5"/>
<line x1="53" y1="207.34" x2="56" y2="207.34" stroke="#000" stroke-width="1.5"/>
<line x1="53" y1="178.80" x2="58.5" y2="178.80" stroke="#000" stroke-width="1.5"/>
<line x1="53" y1="150.26" x2="56" y2="150.26" stroke="#000" stroke-width="1.5"/>
<line x1="53" y1="121.72" x2="58.5" y2="121.72" stroke="#000" stroke-width="1.5"/>
<line x1="53" y1="93.18" x2="56" y2="93.18" stroke="#000" stroke-width="1.5"/>
<line x1="53" y1="64.64" x2="58.5" y2="64.64" stroke="#000" stroke-width="1.5"/>
<line x1="53" y1="36.10" x2="56" y2="36.10" stroke="#000" stroke-width="1.5"/>
<line x1="53" y1="7.56" x2="58.5" y2="7.56" stroke="#000" stroke-width="1.5"/>
<rect x="53" y="7.6" width="464.8" height="342.4" fill="none" stroke="#000" stroke-width="2"/>
<text x="66.41" y="369" text-anchor="middle" class="tl">-15</text>
<text x="110.00" y="369" text-anchor="middle" class="tl">-12</text>
<text x="153.60" y="369" text-anchor="middle" class="tl">-9</text>
<text x="197.20" y="369" text-anchor="middle" class="tl">-6</text>
<text x="240.80" y="369" text-anchor="middle" class="tl">-3</text>
<text x="284.70" y="369" text-anchor="middle" class="tl">0</text>
<text x="329.40" y="369" text-anchor="middle" class="tl">3</text>
<text x="373.00" y="369" text-anchor="middle" class="tl">6</text>
<text x="416.60" y="369" text-anchor="middle" class="tl">9</text>
<text x="460.20" y="369" text-anchor="middle" class="tl">12</text>
<text x="503.80" y="369" text-anchor="middle" class="tl">15</text>
<text x="45.5" y="355.34" text-anchor="end" class="tl">-0.3</text>
<text x="45.5" y="298.26" text-anchor="end" class="tl">-0.2</text>
<text x="45.5" y="241.18" text-anchor="end" class="tl">-0.1</text>
<text x="45.5" y="184.10" text-anchor="end" class="tl">0.0</text>
<text x="45.5" y="127.02" text-anchor="end" class="tl">0.1</text>
<text x="45.5" y="69.94" text-anchor="end" class="tl">0.2</text>
<text x="45.5" y="12.86" text-anchor="end" class="tl">0.3</text>
<text x="285.5" y="391" text-anchor="middle" class="ax" transform="translate(285.5 0) scale(1.12 1) translate(-285.5 0)">H (kOe)</text>
<text class="ax" text-anchor="middle" transform="translate(15 167.5) rotate(-90) scale(1.17 1)">M (emu/gm)</text>
<line x1="67.5" y1="24.3" x2="102" y2="24.3" stroke="#000" stroke-width="2.6" stroke-linecap="round"/>
<circle cx="85" cy="24.3" r="1.6" fill="#fff" stroke="#000" stroke-width="1"/>
<text x="110" y="29.6" class="lg">BFO</text>
<line x1="67.5" y1="43.0" x2="102" y2="43.0" stroke="#2bd82b" stroke-width="2.6" stroke-linecap="round"/>
<circle cx="85" cy="43.0" r="1.6" fill="#fff" stroke="#2bd82b" stroke-width="1"/>
<text x="110" y="48.3" class="lg">BYFCO-1</text>
<line x1="67.5" y1="61.6" x2="102" y2="61.6" stroke="#1c1cb8" stroke-width="2.6" stroke-linecap="round"/>
<circle cx="85" cy="61.6" r="1.6" fill="#fff" stroke="#1c1cb8" stroke-width="1"/>
<text x="110" y="66.9" class="lg">BYFCO-2</text>
<line x1="67.5" y1="80.4" x2="102" y2="80.4" stroke="#c82020" stroke-width="2.6" stroke-linecap="round"/>
<circle cx="85" cy="80.4" r="1.6" fill="#fff" stroke="#c82020" stroke-width="1"/>
<text x="110" y="85.7" class="lg">BYFCO-3</text>
<rect x="336" y="195.8" width="174.6" height="120.4" fill="#fff"/>
<line x1="336" y1="259.0" x2="510.6" y2="259.0" stroke="#222" stroke-width="1.2"/>
<line x1="423.3" y1="195.8" x2="423.3" y2="316.2" stroke="#555" stroke-width="1"/>
<path d="M515.84,177.62 L514.09,178.32 L512.35,179.01 L510.60,179.70 L508.85,180.40 L507.11,181.09 L505.36,181.79 L503.62,182.49 L501.87,183.19 L500.12,183.90 L498.38,184.61 L496.63,185.32 L494.89,186.04 L493.14,186.76 L491.39,187.50 L489.65,188.24 L487.90,188.98 L486.16,189.73 L484.41,190.49 L482.66,191.26 L480.92,192.03 L479.17,192.81 L477.43,193.60 L475.68,194.39 L473.93,195.19 L472.19,196.00 L470.44,196.81 L468.70,197.63 L466.95,198.45 L465.20,199.27 L463.46,200.09 L461.71,200.92 L459.97,201.73 L458.22,202.55 L456.47,203.36 L454.73,204.17 L452.98,204.98 L451.24,205.79 L449.49,206.59 L447.74,207.39 L446.00,208.20 L444.25,209.01 L442.51,209.82 L440.76,210.63 L439.01,211.44 L437.27,212.27 L435.52,213.10 L433.78,213.94 L432.03,214.80 L430.28,215.67 L428.54,216.57 L426.79,217.48 L425.05,218.42 L423.30,219.38 L421.55,220.37 L419.81,221.39 L418.06,222.44 L416.32,223.52 L414.57,224.62 L412.82,225.75 L411.08,226.90 L409.33,228.08 L407.59,229.29 L405.84,230.52 L404.09,231.78 L402.35,233.06 L400.60,234.36 L398.86,235.69 L397.11,237.04 L395.36,238.41 L393.62,239.81 L391.87,241.23 L390.13,242.67 L388.38,244.13 L386.63,245.60 L384.89,247.10 L383.14,248.62 L381.40,250.16 L379.65,251.72 L377.90,253.30 L376.16,254.89 L374.41,256.51 L372.67,258.14 L370.92,259.79 L369.17,261.46 L367.43,263.14 L365.68,264.84 L363.94,266.55 L362.19,268.28 L360.44,270.02 L358.70,271.77 L356.95,273.54 L355.21,275.31 L353.46,277.09 L351.71,278.88 L349.97,280.67 L348.22,282.48 L346.48,284.29 L344.73,286.10 L342.98,287.92 L341.24,289.74 L339.49,291.57 L337.75,293.40 L336.00,295.24 L334.25,297.08 L332.51,298.92 L330.76,300.75 L330.76,339.13 L332.51,338.45 L334.25,337.77 L336.00,337.09 L337.75,336.41 L339.49,335.73 L341.24,335.05 L342.98,334.37 L344.73,333.68 L346.48,333.00 L348.22,332.31 L349.97,331.62 L351.71,330.92 L353.46,330.23 L355.21,329.53 L356.95,328.83 L358.70,328.12 L360.44,327.42 L362.19,326.70 L363.94,325.99 L365.68,325.27 L367.43,324.55 L369.17,323.82 L370.92,323.09 L372.67,322.36 L374.41,321.62 L376.16,320.87 L377.90,320.11 L379.65,319.35 L381.40,318.58 L383.14,317.80 L384.89,317.01 L386.63,316.20 L388.38,315.39 L390.13,314.56 L391.87,313.71 L393.62,312.85 L395.36,311.99 L397.11,311.11 L398.86,310.23 L400.60,309.33 L402.35,308.43 L404.09,307.53 L405.84,306.62 L407.59,305.71 L409.33,304.79 L411.08,303.86 L412.82,302.93 L414.57,301.98 L416.32,301.02 L418.06,300.05 L419.81,299.06 L421.55,298.05 L423.30,297.03 L425.05,295.98 L426.79,294.91 L428.54,293.82 L430.28,292.71 L432.03,291.58 L433.78,290.43 L435.52,289.26 L437.27,288.07 L439.01,286.87 L440.76,285.65 L442.51,284.41 L444.25,283.16 L446.00,281.89 L447.74,280.60 L449.49,279.29 L451.24,277.96 L452.98,276.61 L454.73,275.23 L456.47,273.84 L458.22,272.42 L459.97,270.98 L461.71,269.51 L463.46,268.01 L465.20,266.50 L466.95,264.96 L468.70,263.39 L470.44,261.80 L472.19,260.19 L473.93,258.55 L475.68,256.88 L477.43,255.20 L479.17,253.49 L480.92,251.76 L482.66,250.02 L484.41,248.27 L486.16,246.51 L487.90,244.75 L489.65,242.99 L491.39,241.22 L493.14,239.47 L494.89,237.72 L496.63,235.98 L498.38,234.24 L500.12,232.52 L501.87,230.80 L503.62,229.10 L505.36,227.40 L507.11,225.71 L508.85,224.03 L510.60,222.36 L512.35,220.69 L514.09,219.04 L515.84,217.39 Z" fill="none" stroke="#d08c8c" stroke-width="4.2" stroke-linejoin="round" clip-path="url(#ic)"/>
<path d="M515.84,177.62 L514.09,178.32 L512.35,179.01 L510.60,179.70 L508.85,180.40 L507.11,181.09 L505.36,181.79 L503.62,182.49 L501.87,183.19 L500.12,183.90 L498.38,184.61 L496.63,185.32 L494.89,186.04 L493.14,186.76 L491.39,187.50 L489.65,188.24 L487.90,188.98 L486.16,189.73 L484.41,190.49 L482.66,191.26 L480.92,192.03 L479.17,192.81 L477.43,193.60 L475.68,194.39 L473.93,195.19 L472.19,196.00 L470.44,196.81 L468.70,197.63 L466.95,198.45 L465.20,199.27 L463.46,200.09 L461.71,200.92 L459.97,201.73 L458.22,202.55 L456.47,203.36 L454.73,204.17 L452.98,204.98 L451.24,205.79 L449.49,206.59 L447.74,207.39 L446.00,208.20 L444.25,209.01 L442.51,209.82 L440.76,210.63 L439.01,211.44 L437.27,212.27 L435.52,213.10 L433.78,213.94 L432.03,214.80 L430.28,215.67 L428.54,216.57 L426.79,217.48 L425.05,218.42 L423.30,219.38 L421.55,220.37 L419.81,221.39 L418.06,222.44 L416.32,223.52 L414.57,224.62 L412.82,225.75 L411.08,226.90 L409.33,228.08 L407.59,229.29 L405.84,230.52 L404.09,231.78 L402.35,233.06 L400.60,234.36 L398.86,235.69 L397.11,237.04 L395.36,238.41 L393.62,239.81 L391.87,241.23 L390.13,242.67 L388.38,244.13 L386.63,245.60 L384.89,247.10 L383.14,248.62 L381.40,250.16 L379.65,251.72 L377.90,253.30 L376.16,254.89 L374.41,256.51 L372.67,258.14 L370.92,259.79 L369.17,261.46 L367.43,263.14 L365.68,264.84 L363.94,266.55 L362.19,268.28 L360.44,270.02 L358.70,271.77 L356.95,273.54 L355.21,275.31 L353.46,277.09 L351.71,278.88 L349.97,280.67 L348.22,282.48 L346.48,284.29 L344.73,286.10 L342.98,287.92 L341.24,289.74 L339.49,291.57 L337.75,293.40 L336.00,295.24 L334.25,297.08 L332.51,298.92 L330.76,300.75 L330.76,339.13 L332.51,338.45 L334.25,337.77 L336.00,337.09 L337.75,336.41 L339.49,335.73 L341.24,335.05 L342.98,334.37 L344.73,333.68 L346.48,333.00 L348.22,332.31 L349.97,331.62 L351.71,330.92 L353.46,330.23 L355.21,329.53 L356.95,328.83 L358.70,328.12 L360.44,327.42 L362.19,326.70 L363.94,325.99 L365.68,325.27 L367.43,324.55 L369.17,323.82 L370.92,323.09 L372.67,322.36 L374.41,321.62 L376.16,320.87 L377.90,320.11 L379.65,319.35 L381.40,318.58 L383.14,317.80 L384.89,317.01 L386.63,316.20 L388.38,315.39 L390.13,314.56 L391.87,313.71 L393.62,312.85 L395.36,311.99 L397.11,311.11 L398.86,310.23 L400.60,309.33 L402.35,308.43 L404.09,307.53 L405.84,306.62 L407.59,305.71 L409.33,304.79 L411.08,303.86 L412.82,302.93 L414.57,301.98 L416.32,301.02 L418.06,300.05 L419.81,299.06 L421.55,298.05 L423.30,297.03 L425.05,295.98 L426.79,294.91 L428.54,293.82 L430.28,292.71 L432.03,291.58 L433.78,290.43 L435.52,289.26 L437.27,288.07 L439.01,286.87 L440.76,285.65 L442.51,284.41 L444.25,283.16 L446.00,281.89 L447.74,280.60 L449.49,279.29 L451.24,277.96 L452.98,276.61 L454.73,275.23 L456.47,273.84 L458.22,272.42 L459.97,270.98 L461.71,269.51 L463.46,268.01 L465.20,266.50 L466.95,264.96 L468.70,263.39 L470.44,261.80 L472.19,260.19 L473.93,258.55 L475.68,256.88 L477.43,255.20 L479.17,253.49 L480.92,251.76 L482.66,250.02 L484.41,248.27 L486.16,246.51 L487.90,244.75 L489.65,242.99 L491.39,241.22 L493.14,239.47 L494.89,237.72 L496.63,235.98 L498.38,234.24 L500.12,232.52 L501.87,230.80 L503.62,229.10 L505.36,227.40 L507.11,225.71 L508.85,224.03 L510.60,222.36 L512.35,220.69 L514.09,219.04 L515.84,217.39 Z" fill="none" stroke="#fae8e8" stroke-width="1.6" stroke-dasharray="2.2 0.8" clip-path="url(#ic)"/>
<path d="M515.84,185.58 L514.09,186.24 L512.35,186.91 L510.60,187.58 L508.85,188.26 L507.11,188.93 L505.36,189.61 L503.62,190.29 L501.87,190.98 L500.12,191.67 L498.38,192.37 L496.63,193.07 L494.89,193.78 L493.14,194.50 L491.39,195.23 L489.65,195.96 L487.90,196.70 L486.16,197.45 L484.41,198.21 L482.66,198.99 L480.92,199.77 L479.17,200.57 L477.43,201.38 L475.68,202.21 L473.93,203.05 L472.19,203.90 L470.44,204.77 L468.70,205.65 L466.95,206.53 L465.20,207.42 L463.46,208.32 L461.71,209.21 L459.97,210.11 L458.22,211.01 L456.47,211.90 L454.73,212.80 L452.98,213.69 L451.24,214.57 L449.49,215.46 L447.74,216.35 L446.00,217.24 L444.25,218.13 L442.51,219.01 L440.76,219.90 L439.01,220.80 L437.27,221.70 L435.52,222.60 L433.78,223.52 L432.03,224.46 L430.28,225.41 L428.54,226.39 L426.79,227.39 L425.05,228.42 L423.30,229.49 L421.55,230.59 L419.81,231.72 L418.06,232.90 L416.32,234.10 L414.57,235.34 L412.82,236.62 L411.08,237.92 L409.33,239.26 L407.59,240.63 L405.84,242.03 L404.09,243.45 L402.35,244.91 L400.60,246.38 L398.86,247.88 L397.11,249.39 L395.36,250.92 L393.62,252.46 L391.87,254.00 L390.13,255.55 L388.38,257.10 L386.63,258.65 L384.89,260.20 L383.14,261.75 L381.40,263.29 L379.65,264.83 L377.90,266.37 L376.16,267.90 L374.41,269.43 L372.67,270.95 L370.92,272.46 L369.17,273.97 L367.43,275.47 L365.68,276.96 L363.94,278.45 L362.19,279.93 L360.44,281.41 L358.70,282.88 L356.95,284.35 L355.21,285.81 L353.46,287.26 L351.71,288.71 L349.97,290.16 L348.22,291.60 L346.48,293.04 L344.73,294.48 L342.98,295.92 L341.24,297.36 L339.49,298.80 L337.75,300.25 L336.00,301.70 L334.25,303.15 L332.51,304.61 L330.76,306.08 L330.76,329.57 L332.51,328.93 L334.25,328.29 L336.00,327.66 L337.75,327.03 L339.49,326.41 L341.24,325.80 L342.98,325.18 L344.73,324.58 L346.48,323.98 L348.22,323.38 L349.97,322.79 L351.71,322.20 L353.46,321.61 L355.21,321.03 L356.95,320.45 L358.70,319.87 L360.44,319.29 L362.19,318.71 L363.94,318.12 L365.68,317.52 L367.43,316.91 L369.17,316.29 L370.92,315.66 L372.67,315.01 L374.41,314.35 L376.16,313.68 L377.90,312.98 L379.65,312.27 L381.40,311.54 L383.14,310.79 L384.89,310.02 L386.63,309.24 L388.38,308.43 L390.13,307.60 L391.87,306.75 L393.62,305.88 L395.36,304.99 L397.11,304.10 L398.86,303.18 L400.60,302.26 L402.35,301.33 L404.09,300.39 L405.84,299.44 L407.59,298.49 L409.33,297.54 L411.08,296.57 L412.82,295.60 L414.57,294.61 L416.32,293.61 L418.06,292.60 L419.81,291.56 L421.55,290.51 L423.30,289.44 L425.05,288.34 L426.79,287.22 L428.54,286.07 L430.28,284.90 L432.03,283.71 L433.78,282.50 L435.52,281.26 L437.27,280.00 L439.01,278.72 L440.76,277.41 L442.51,276.08 L444.25,274.73 L446.00,273.36 L447.74,271.96 L449.49,270.54 L451.24,269.10 L452.98,267.63 L454.73,266.13 L456.47,264.61 L458.22,263.06 L459.97,261.49 L461.71,259.89 L463.46,258.26 L465.20,256.62 L466.95,254.95 L468.70,253.26 L470.44,251.55 L472.19,249.83 L473.93,248.09 L475.68,246.33 L477.43,244.56 L479.17,242.77 L480.92,240.98 L482.66,239.19 L484.41,237.40 L486.16,235.61 L487.90,233.83 L489.65,232.05 L491.39,230.30 L493.14,228.56 L494.89,226.84 L496.63,225.14 L498.38,223.47 L500.12,221.81 L501.87,220.19 L503.62,218.58 L505.36,217.00 L507.11,215.45 L508.85,213.92 L510.60,212.42 L512.35,210.95 L514.09,209.50 L515.84,208.08 Z" fill="none" stroke="#5c5cce" stroke-width="4.2" stroke-linejoin="round" clip-path="url(#ic)"/>
<path d="M515.84,185.58 L514.09,186.24 L512.35,186.91 L510.60,187.58 L508.85,188.26 L507.11,188.93 L505.36,189.61 L503.62,190.29 L501.87,190.98 L500.12,191.67 L498.38,192.37 L496.63,193.07 L494.89,193.78 L493.14,194.50 L491.39,195.23 L489.65,195.96 L487.90,196.70 L486.16,197.45 L484.41,198.21 L482.66,198.99 L480.92,199.77 L479.17,200.57 L477.43,201.38 L475.68,202.21 L473.93,203.05 L472.19,203.90 L470.44,204.77 L468.70,205.65 L466.95,206.53 L465.20,207.42 L463.46,208.32 L461.71,209.21 L459.97,210.11 L458.22,211.01 L456.47,211.90 L454.73,212.80 L452.98,213.69 L451.24,214.57 L449.49,215.46 L447.74,216.35 L446.00,217.24 L444.25,218.13 L442.51,219.01 L440.76,219.90 L439.01,220.80 L437.27,221.70 L435.52,222.60 L433.78,223.52 L432.03,224.46 L430.28,225.41 L428.54,226.39 L426.79,227.39 L425.05,228.42 L423.30,229.49 L421.55,230.59 L419.81,231.72 L418.06,232.90 L416.32,234.10 L414.57,235.34 L412.82,236.62 L411.08,237.92 L409.33,239.26 L407.59,240.63 L405.84,242.03 L404.09,243.45 L402.35,244.91 L400.60,246.38 L398.86,247.88 L397.11,249.39 L395.36,250.92 L393.62,252.46 L391.87,254.00 L390.13,255.55 L388.38,257.10 L386.63,258.65 L384.89,260.20 L383.14,261.75 L381.40,263.29 L379.65,264.83 L377.90,266.37 L376.16,267.90 L374.41,269.43 L372.67,270.95 L370.92,272.46 L369.17,273.97 L367.43,275.47 L365.68,276.96 L363.94,278.45 L362.19,279.93 L360.44,281.41 L358.70,282.88 L356.95,284.35 L355.21,285.81 L353.46,287.26 L351.71,288.71 L349.97,290.16 L348.22,291.60 L346.48,293.04 L344.73,294.48 L342.98,295.92 L341.24,297.36 L339.49,298.80 L337.75,300.25 L336.00,301.70 L334.25,303.15 L332.51,304.61 L330.76,306.08 L330.76,329.57 L332.51,328.93 L334.25,328.29 L336.00,327.66 L337.75,327.03 L339.49,326.41 L341.24,325.80 L342.98,325.18 L344.73,324.58 L346.48,323.98 L348.22,323.38 L349.97,322.79 L351.71,322.20 L353.46,321.61 L355.21,321.03 L356.95,320.45 L358.70,319.87 L360.44,319.29 L362.19,318.71 L363.94,318.12 L365.68,317.52 L367.43,316.91 L369.17,316.29 L370.92,315.66 L372.67,315.01 L374.41,314.35 L376.16,313.68 L377.90,312.98 L379.65,312.27 L381.40,311.54 L383.14,310.79 L384.89,310.02 L386.63,309.24 L388.38,308.43 L390.13,307.60 L391.87,306.75 L393.62,305.88 L395.36,304.99 L397.11,304.10 L398.86,303.18 L400.60,302.26 L402.35,301.33 L404.09,300.39 L405.84,299.44 L407.59,298.49 L409.33,297.54 L411.08,296.57 L412.82,295.60 L414.57,294.61 L416.32,293.61 L418.06,292.60 L419.81,291.56 L421.55,290.51 L423.30,289.44 L425.05,288.34 L426.79,287.22 L428.54,286.07 L430.28,284.90 L432.03,283.71 L433.78,282.50 L435.52,281.26 L437.27,280.00 L439.01,278.72 L440.76,277.41 L442.51,276.08 L444.25,274.73 L446.00,273.36 L447.74,271.96 L449.49,270.54 L451.24,269.10 L452.98,267.63 L454.73,266.13 L456.47,264.61 L458.22,263.06 L459.97,261.49 L461.71,259.89 L463.46,258.26 L465.20,256.62 L466.95,254.95 L468.70,253.26 L470.44,251.55 L472.19,249.83 L473.93,248.09 L475.68,246.33 L477.43,244.56 L479.17,242.77 L480.92,240.98 L482.66,239.19 L484.41,237.40 L486.16,235.61 L487.90,233.83 L489.65,232.05 L491.39,230.30 L493.14,228.56 L494.89,226.84 L496.63,225.14 L498.38,223.47 L500.12,221.81 L501.87,220.19 L503.62,218.58 L505.36,217.00 L507.11,215.45 L508.85,213.92 L510.60,212.42 L512.35,210.95 L514.09,209.50 L515.84,208.08 Z" fill="none" stroke="#c8c8f4" stroke-width="1.2" stroke-dasharray="1.6 1.2" clip-path="url(#ic)"/>
<path d="M515.84,198.95 L514.09,199.57 L512.35,200.19 L510.60,200.80 L508.85,201.42 L507.11,202.04 L505.36,202.66 L503.62,203.29 L501.87,203.91 L500.12,204.54 L498.38,205.16 L496.63,205.79 L494.89,206.42 L493.14,207.06 L491.39,207.69 L489.65,208.33 L487.90,208.97 L486.16,209.62 L484.41,210.27 L482.66,210.92 L480.92,211.57 L479.17,212.24 L477.43,212.90 L475.68,213.57 L473.93,214.25 L472.19,214.93 L470.44,215.62 L468.70,216.31 L466.95,217.01 L465.20,217.71 L463.46,218.41 L461.71,219.12 L459.97,219.84 L458.22,220.56 L456.47,221.28 L454.73,222.00 L452.98,222.73 L451.24,223.47 L449.49,224.21 L447.74,224.95 L446.00,225.71 L444.25,226.47 L442.51,227.24 L440.76,228.02 L439.01,228.81 L437.27,229.61 L435.52,230.42 L433.78,231.25 L432.03,232.09 L430.28,232.95 L428.54,233.82 L426.79,234.71 L425.05,235.62 L423.30,236.56 L421.55,237.51 L419.81,238.49 L418.06,239.49 L416.32,240.50 L414.57,241.53 L412.82,242.57 L411.08,243.62 L409.33,244.68 L407.59,245.75 L405.84,246.83 L404.09,247.91 L402.35,249.00 L400.60,250.08 L398.86,251.17 L397.11,252.26 L395.36,253.35 L393.62,254.43 L391.87,255.51 L390.13,256.59 L388.38,257.66 L386.63,258.72 L384.89,259.78 L383.14,260.82 L381.40,261.86 L379.65,262.89 L377.90,263.92 L376.16,264.93 L374.41,265.93 L372.67,266.92 L370.92,267.90 L369.17,268.87 L367.43,269.83 L365.68,270.78 L363.94,271.73 L362.19,272.67 L360.44,273.62 L358.70,274.56 L356.95,275.51 L355.21,276.46 L353.46,277.43 L351.71,278.40 L349.97,279.38 L348.22,280.37 L346.48,281.37 L344.73,282.38 L342.98,283.39 L341.24,284.42 L339.49,285.45 L337.75,286.49 L336.00,287.54 L334.25,288.59 L332.51,289.65 L330.76,290.71 L330.76,316.51 L332.51,315.94 L334.25,315.36 L336.00,314.77 L337.75,314.16 L339.49,313.55 L341.24,312.92 L342.98,312.28 L344.73,311.64 L346.48,310.98 L348.22,310.31 L349.97,309.63 L351.71,308.94 L353.46,308.25 L355.21,307.54 L356.95,306.83 L358.70,306.11 L360.44,305.39 L362.19,304.67 L363.94,303.94 L365.68,303.22 L367.43,302.49 L369.17,301.78 L370.92,301.06 L372.67,300.35 L374.41,299.65 L376.16,298.95 L377.90,298.26 L379.65,297.58 L381.40,296.90 L383.14,296.23 L384.89,295.57 L386.63,294.91 L388.38,294.26 L390.13,293.61 L391.87,292.97 L393.62,292.33 L395.36,291.70 L397.11,291.06 L398.86,290.42 L400.60,289.78 L402.35,289.13 L404.09,288.47 L405.84,287.81 L407.59,287.14 L409.33,286.45 L411.08,285.76 L412.82,285.05 L414.57,284.33 L416.32,283.59 L418.06,282.84 L419.81,282.08 L421.55,281.30 L423.30,280.50 L425.05,279.68 L426.79,278.85 L428.54,278.00 L430.28,277.14 L432.03,276.27 L433.78,275.39 L435.52,274.50 L437.27,273.61 L439.01,272.71 L440.76,271.81 L442.51,270.91 L444.25,270.00 L446.00,269.09 L447.74,268.18 L449.49,267.26 L451.24,266.34 L452.98,265.40 L454.73,264.46 L456.47,263.51 L458.22,262.55 L459.97,261.57 L461.71,260.59 L463.46,259.59 L465.20,258.58 L466.95,257.56 L468.70,256.53 L470.44,255.49 L472.19,254.44 L473.93,253.38 L475.68,252.31 L477.43,251.23 L479.17,250.15 L480.92,249.06 L482.66,247.96 L484.41,246.87 L486.16,245.77 L487.90,244.68 L489.65,243.59 L491.39,242.51 L493.14,241.43 L494.89,240.37 L496.63,239.31 L498.38,238.26 L500.12,237.21 L501.87,236.18 L503.62,235.15 L505.36,234.12 L507.11,233.11 L508.85,232.09 L510.60,231.08 L512.35,230.08 L514.09,229.08 L515.84,228.08 Z" fill="none" stroke="#7ee07e" stroke-width="4.2" stroke-linejoin="round" clip-path="url(#ic)"/>
<path d="M515.84,198.95 L514.09,199.57 L512.35,200.19 L510.60,200.80 L508.85,201.42 L507.11,202.04 L505.36,202.66 L503.62,203.29 L501.87,203.91 L500.12,204.54 L498.38,205.16 L496.63,205.79 L494.89,206.42 L493.14,207.06 L491.39,207.69 L489.65,208.33 L487.90,208.97 L486.16,209.62 L484.41,210.27 L482.66,210.92 L480.92,211.57 L479.17,212.24 L477.43,212.90 L475.68,213.57 L473.93,214.25 L472.19,214.93 L470.44,215.62 L468.70,216.31 L466.95,217.01 L465.20,217.71 L463.46,218.41 L461.71,219.12 L459.97,219.84 L458.22,220.56 L456.47,221.28 L454.73,222.00 L452.98,222.73 L451.24,223.47 L449.49,224.21 L447.74,224.95 L446.00,225.71 L444.25,226.47 L442.51,227.24 L440.76,228.02 L439.01,228.81 L437.27,229.61 L435.52,230.42 L433.78,231.25 L432.03,232.09 L430.28,232.95 L428.54,233.82 L426.79,234.71 L425.05,235.62 L423.30,236.56 L421.55,237.51 L419.81,238.49 L418.06,239.49 L416.32,240.50 L414.57,241.53 L412.82,242.57 L411.08,243.62 L409.33,244.68 L407.59,245.75 L405.84,246.83 L404.09,247.91 L402.35,249.00 L400.60,250.08 L398.86,251.17 L397.11,252.26 L395.36,253.35 L393.62,254.43 L391.87,255.51 L390.13,256.59 L388.38,257.66 L386.63,258.72 L384.89,259.78 L383.14,260.82 L381.40,261.86 L379.65,262.89 L377.90,263.92 L376.16,264.93 L374.41,265.93 L372.67,266.92 L370.92,267.90 L369.17,268.87 L367.43,269.83 L365.68,270.78 L363.94,271.73 L362.19,272.67 L360.44,273.62 L358.70,274.56 L356.95,275.51 L355.21,276.46 L353.46,277.43 L351.71,278.40 L349.97,279.38 L348.22,280.37 L346.48,281.37 L344.73,282.38 L342.98,283.39 L341.24,284.42 L339.49,285.45 L337.75,286.49 L336.00,287.54 L334.25,288.59 L332.51,289.65 L330.76,290.71 L330.76,316.51 L332.51,315.94 L334.25,315.36 L336.00,314.77 L337.75,314.16 L339.49,313.55 L341.24,312.92 L342.98,312.28 L344.73,311.64 L346.48,310.98 L348.22,310.31 L349.97,309.63 L351.71,308.94 L353.46,308.25 L355.21,307.54 L356.95,306.83 L358.70,306.11 L360.44,305.39 L362.19,304.67 L363.94,303.94 L365.68,303.22 L367.43,302.49 L369.17,301.78 L370.92,301.06 L372.67,300.35 L374.41,299.65 L376.16,298.95 L377.90,298.26 L379.65,297.58 L381.40,296.90 L383.14,296.23 L384.89,295.57 L386.63,294.91 L388.38,294.26 L390.13,293.61 L391.87,292.97 L393.62,292.33 L395.36,291.70 L397.11,291.06 L398.86,290.42 L400.60,289.78 L402.35,289.13 L404.09,288.47 L405.84,287.81 L407.59,287.14 L409.33,286.45 L411.08,285.76 L412.82,285.05 L414.57,284.33 L416.32,283.59 L418.06,282.84 L419.81,282.08 L421.55,281.30 L423.30,280.50 L425.05,279.68 L426.79,278.85 L428.54,278.00 L430.28,277.14 L432.03,276.27 L433.78,275.39 L435.52,274.50 L437.27,273.61 L439.01,272.71 L440.76,271.81 L442.51,270.91 L444.25,270.00 L446.00,269.09 L447.74,268.18 L449.49,267.26 L451.24,266.34 L452.98,265.40 L454.73,264.46 L456.47,263.51 L458.22,262.55 L459.97,261.57 L461.71,260.59 L463.46,259.59 L465.20,258.58 L466.95,257.56 L468.70,256.53 L470.44,255.49 L472.19,254.44 L473.93,253.38 L475.68,252.31 L477.43,251.23 L479.17,250.15 L480.92,249.06 L482.66,247.96 L484.41,246.87 L486.16,245.77 L487.90,244.68 L489.65,243.59 L491.39,242.51 L493.14,241.43 L494.89,240.37 L496.63,239.31 L498.38,238.26 L500.12,237.21 L501.87,236.18 L503.62,235.15 L505.36,234.12 L507.11,233.11 L508.85,232.09 L510.60,231.08 L512.35,230.08 L514.09,229.08 L515.84,228.08 Z" fill="none" stroke="#d8f8d8" stroke-width="1.3" stroke-dasharray="1.6 1.0" clip-path="url(#ic)"/>
<path d="M515.84,216.99 L514.09,217.64 L512.35,218.29 L510.60,218.93 L508.85,219.57 L507.11,220.22 L505.36,220.86 L503.62,221.50 L501.87,222.14 L500.12,222.77 L498.38,223.41 L496.63,224.05 L494.89,224.68 L493.14,225.32 L491.39,225.96 L489.65,226.60 L487.90,227.24 L486.16,227.88 L484.41,228.52 L482.66,229.17 L480.92,229.82 L479.17,230.47 L477.43,231.12 L475.68,231.78 L473.93,232.44 L472.19,233.11 L470.44,233.78 L468.70,234.45 L466.95,235.13 L465.20,235.81 L463.46,236.50 L461.71,237.19 L459.97,237.88 L458.22,238.58 L456.47,239.28 L454.73,239.98 L452.98,240.68 L451.24,241.39 L449.49,242.10 L447.74,242.81 L446.00,243.52 L444.25,244.23 L442.51,244.94 L440.76,245.65 L439.01,246.36 L437.27,247.07 L435.52,247.78 L433.78,248.49 L432.03,249.20 L430.28,249.91 L428.54,250.62 L426.79,251.34 L425.05,252.05 L423.30,252.77 L421.55,253.50 L419.81,254.23 L418.06,254.96 L416.32,255.69 L414.57,256.43 L412.82,257.17 L411.08,257.92 L409.33,258.67 L407.59,259.43 L405.84,260.19 L404.09,260.96 L402.35,261.74 L400.60,262.52 L398.86,263.30 L397.11,264.09 L395.36,264.89 L393.62,265.70 L391.87,266.51 L390.13,267.32 L388.38,268.15 L386.63,268.98 L384.89,269.81 L383.14,270.65 L381.40,271.49 L379.65,272.34 L377.90,273.18 L376.16,274.03 L374.41,274.87 L372.67,275.72 L370.92,276.56 L369.17,277.40 L367.43,278.24 L365.68,279.07 L363.94,279.89 L362.19,280.71 L360.44,281.53 L358.70,282.33 L356.95,283.13 L355.21,283.92 L353.46,284.71 L351.71,285.48 L349.97,286.24 L348.22,287.00 L346.48,287.75 L344.73,288.50 L342.98,289.24 L341.24,289.98 L339.49,290.72 L337.75,291.46 L336.00,292.20 L334.25,292.94 L332.51,293.68 L330.76,294.42 L330.76,299.75 L332.51,299.11 L334.25,298.48 L336.00,297.86 L337.75,297.25 L339.49,296.64 L341.24,296.04 L342.98,295.45 L344.73,294.87 L346.48,294.28 L348.22,293.70 L349.97,293.13 L351.71,292.55 L353.46,291.97 L355.21,291.40 L356.95,290.82 L358.70,290.24 L360.44,289.66 L362.19,289.07 L363.94,288.48 L365.68,287.88 L367.43,287.28 L369.17,286.68 L370.92,286.06 L372.67,285.44 L374.41,284.82 L376.16,284.18 L377.90,283.54 L379.65,282.89 L381.40,282.24 L383.14,281.58 L384.89,280.92 L386.63,280.25 L388.38,279.57 L390.13,278.90 L391.87,278.21 L393.62,277.53 L395.36,276.84 L397.11,276.14 L398.86,275.44 L400.60,274.74 L402.35,274.04 L404.09,273.33 L405.84,272.62 L407.59,271.91 L409.33,271.19 L411.08,270.47 L412.82,269.75 L414.57,269.03 L416.32,268.30 L418.06,267.58 L419.81,266.85 L421.55,266.13 L423.30,265.40 L425.05,264.67 L426.79,263.95 L428.54,263.22 L430.28,262.50 L432.03,261.77 L433.78,261.05 L435.52,260.32 L437.27,259.60 L439.01,258.87 L440.76,258.14 L442.51,257.42 L444.25,256.69 L446.00,255.95 L447.74,255.22 L449.49,254.48 L451.24,253.73 L452.98,252.98 L454.73,252.21 L456.47,251.44 L458.22,250.66 L459.97,249.87 L461.71,249.07 L463.46,248.25 L465.20,247.43 L466.95,246.60 L468.70,245.75 L470.44,244.89 L472.19,244.03 L473.93,243.15 L475.68,242.27 L477.43,241.37 L479.17,240.47 L480.92,239.56 L482.66,238.64 L484.41,237.71 L486.16,236.78 L487.90,235.85 L489.65,234.91 L491.39,233.97 L493.14,233.02 L494.89,232.07 L496.63,231.13 L498.38,230.19 L500.12,229.25 L501.87,228.31 L503.62,227.39 L505.36,226.47 L507.11,225.57 L508.85,224.68 L510.60,223.81 L512.35,222.95 L514.09,222.11 L515.84,221.29 Z" fill="none" stroke="#555555" stroke-width="4.2" stroke-linejoin="round" clip-path="url(#ic)"/>
<path d="M515.84,216.99 L514.09,217.64 L512.35,218.29 L510.60,218.93 L508.85,219.57 L507.11,220.22 L505.36,220.86 L503.62,221.50 L501.87,222.14 L500.12,222.77 L498.38,223.41 L496.63,224.05 L494.89,224.68 L493.14,225.32 L491.39,225.96 L489.65,226.60 L487.90,227.24 L486.16,227.88 L484.41,228.52 L482.66,229.17 L480.92,229.82 L479.17,230.47 L477.43,231.12 L475.68,231.78 L473.93,232.44 L472.19,233.11 L470.44,233.78 L468.70,234.45 L466.95,235.13 L465.20,235.81 L463.46,236.50 L461.71,237.19 L459.97,237.88 L458.22,238.58 L456.47,239.28 L454.73,239.98 L452.98,240.68 L451.24,241.39 L449.49,242.10 L447.74,242.81 L446.00,243.52 L444.25,244.23 L442.51,244.94 L440.76,245.65 L439.01,246.36 L437.27,247.07 L435.52,247.78 L433.78,248.49 L432.03,249.20 L430.28,249.91 L428.54,250.62 L426.79,251.34 L425.05,252.05 L423.30,252.77 L421.55,253.50 L419.81,254.23 L418.06,254.96 L416.32,255.69 L414.57,256.43 L412.82,257.17 L411.08,257.92 L409.33,258.67 L407.59,259.43 L405.84,260.19 L404.09,260.96 L402.35,261.74 L400.60,262.52 L398.86,263.30 L397.11,264.09 L395.36,264.89 L393.62,265.70 L391.87,266.51 L390.13,267.32 L388.38,268.15 L386.63,268.98 L384.89,269.81 L383.14,270.65 L381.40,271.49 L379.65,272.34 L377.90,273.18 L376.16,274.03 L374.41,274.87 L372.67,275.72 L370.92,276.56 L369.17,277.40 L367.43,278.24 L365.68,279.07 L363.94,279.89 L362.19,280.71 L360.44,281.53 L358.70,282.33 L356.95,283.13 L355.21,283.92 L353.46,284.71 L351.71,285.48 L349.97,286.24 L348.22,287.00 L346.48,287.75 L344.73,288.50 L342.98,289.24 L341.24,289.98 L339.49,290.72 L337.75,291.46 L336.00,292.20 L334.25,292.94 L332.51,293.68 L330.76,294.42 L330.76,299.75 L332.51,299.11 L334.25,298.48 L336.00,297.86 L337.75,297.25 L339.49,296.64 L341.24,296.04 L342.98,295.45 L344.73,294.87 L346.48,294.28 L348.22,293.70 L349.97,293.13 L351.71,292.55 L353.46,291.97 L355.21,291.40 L356.95,290.82 L358.70,290.24 L360.44,289.66 L362.19,289.07 L363.94,288.48 L365.68,287.88 L367.43,287.28 L369.17,286.68 L370.92,286.06 L372.67,285.44 L374.41,284.82 L376.16,284.18 L377.90,283.54 L379.65,282.89 L381.40,282.24 L383.14,281.58 L384.89,280.92 L386.63,280.25 L388.38,279.57 L390.13,278.90 L391.87,278.21 L393.62,277.53 L395.36,276.84 L397.11,276.14 L398.86,275.44 L400.60,274.74 L402.35,274.04 L404.09,273.33 L405.84,272.62 L407.59,271.91 L409.33,271.19 L411.08,270.47 L412.82,269.75 L414.57,269.03 L416.32,268.30 L418.06,267.58 L419.81,266.85 L421.55,266.13 L423.30,265.40 L425.05,264.67 L426.79,263.95 L428.54,263.22 L430.28,262.50 L432.03,261.77 L433.78,261.05 L435.52,260.32 L437.27,259.60 L439.01,258.87 L440.76,258.14 L442.51,257.42 L444.25,256.69 L446.00,255.95 L447.74,255.22 L449.49,254.48 L451.24,253.73 L452.98,252.98 L454.73,252.21 L456.47,251.44 L458.22,250.66 L459.97,249.87 L461.71,249.07 L463.46,248.25 L465.20,247.43 L466.95,246.60 L468.70,245.75 L470.44,244.89 L472.19,244.03 L473.93,243.15 L475.68,242.27 L477.43,241.37 L479.17,240.47 L480.92,239.56 L482.66,238.64 L484.41,237.71 L486.16,236.78 L487.90,235.85 L489.65,234.91 L491.39,233.97 L493.14,233.02 L494.89,232.07 L496.63,231.13 L498.38,230.19 L500.12,229.25 L501.87,228.31 L503.62,227.39 L505.36,226.47 L507.11,225.57 L508.85,224.68 L510.60,223.81 L512.35,222.95 L514.09,222.11 L515.84,221.29 Z" fill="none" stroke="#e8e8e8" stroke-width="1.4" stroke-dasharray="2 1.2" clip-path="url(#ic)"/>
<line x1="336.00" y1="316.2" x2="336.00" y2="314.0" stroke="#333" stroke-width="1"/>
<line x1="344.73" y1="316.2" x2="344.73" y2="314.9" stroke="#333" stroke-width="1"/>
<line x1="353.46" y1="316.2" x2="353.46" y2="314.0" stroke="#333" stroke-width="1"/>
<line x1="362.19" y1="316.2" x2="362.19" y2="314.9" stroke="#333" stroke-width="1"/>
<line x1="370.92" y1="316.2" x2="370.92" y2="314.0" stroke="#333" stroke-width="1"/>
<line x1="379.65" y1="316.2" x2="379.65" y2="314.9" stroke="#333" stroke-width="1"/>
<line x1="388.38" y1="316.2" x2="388.38" y2="314.0" stroke="#333" stroke-width="1"/>
<line x1="397.11" y1="316.2" x2="397.11" y2="314.9" stroke="#333" stroke-width="1"/>
<line x1="405.84" y1="316.2" x2="405.84" y2="314.0" stroke="#333" stroke-width="1"/>
<line x1="414.57" y1="316.2" x2="414.57" y2="314.9" stroke="#333" stroke-width="1"/>
<line x1="423.30" y1="316.2" x2="423.30" y2="314.0" stroke="#333" stroke-width="1"/>
<line x1="432.03" y1="316.2" x2="432.03" y2="314.9" stroke="#333" stroke-width="1"/>
<line x1="440.76" y1="316.2" x2="440.76" y2="314.0" stroke="#333" stroke-width="1"/>
<line x1="449.49" y1="316.2" x2="449.49" y2="314.9" stroke="#333" stroke-width="1"/>
<line x1="458.22" y1="316.2" x2="458.22" y2="314.0" stroke="#333" stroke-width="1"/>
<line x1="466.95" y1="316.2" x2="466.95" y2="314.9" stroke="#333" stroke-width="1"/>
<line x1="475.68" y1="316.2" x2="475.68" y2="314.0" stroke="#333" stroke-width="1"/>
<line x1="484.41" y1="316.2" x2="484.41" y2="314.9" stroke="#333" stroke-width="1"/>
<line x1="493.14" y1="316.2" x2="493.14" y2="314.0" stroke="#333" stroke-width="1"/>
<line x1="501.87" y1="316.2" x2="501.87" y2="314.9" stroke="#333" stroke-width="1"/>
<line x1="510.60" y1="316.2" x2="510.60" y2="314.0" stroke="#333" stroke-width="1"/>
<line x1="336" y1="316.00" x2="338.2" y2="316.00" stroke="#333" stroke-width="1"/>
<line x1="336" y1="301.75" x2="337.3" y2="301.75" stroke="#333" stroke-width="1"/>
<line x1="336" y1="287.50" x2="338.2" y2="287.50" stroke="#333" stroke-width="1"/>
<line x1="336" y1="273.25" x2="337.3" y2="273.25" stroke="#333" stroke-width="1"/>
<line x1="336" y1="259.00" x2="338.2" y2="259.00" stroke="#333" stroke-width="1"/>
<line x1="336" y1="244.75" x2="337.3" y2="244.75" stroke="#333" stroke-width="1"/>
<line x1="336" y1="230.50" x2="338.2" y2="230.50" stroke="#333" stroke-width="1"/>
<line x1="336" y1="216.25" x2="337.3" y2="216.25" stroke="#333" stroke-width="1"/>
<line x1="336" y1="202.00" x2="338.2" y2="202.00" stroke="#333" stroke-width="1"/>
<rect x="336" y="195.8" width="174.6" height="120.4" fill="none" stroke="#333" stroke-width="1.2"/>
<text x="336.00" y="327" text-anchor="middle" class="it">-5</text>
<text x="353.46" y="327" text-anchor="middle" class="it">-4</text>
<text x="370.92" y="327" text-anchor="middle" class="it">-3</text>
<text x="388.38" y="327" text-anchor="middle" class="it">-2</text>
<text x="405.84" y="327" text-anchor="middle" class="it">-1</text>
<text x="423.30" y="327" text-anchor="middle" class="it">0</text>
<text x="440.76" y="327" text-anchor="middle" class="it">1</text>
<text x="458.22" y="327" text-anchor="middle" class="it">2</text>
<text x="475.68" y="327" text-anchor="middle" class="it">3</text>
<text x="493.14" y="327" text-anchor="middle" class="it">4</text>
<text x="510.60" y="327" text-anchor="middle" class="it">5</text>
<text x="333.3" y="205.00" text-anchor="end" class="it">0.10</text>
<text x="333.3" y="233.50" text-anchor="end" class="it">0.05</text>
<text x="333.3" y="262.00" text-anchor="end" class="it">0.00</text>
<text x="333.3" y="290.50" text-anchor="end" class="it">-0.05</text>
<text x="333.3" y="319.00" text-anchor="end" class="it">-0.10</text>
<text x="423.3" y="337" text-anchor="middle" class="ia">Applied field, H (kOe)</text>
<text class="ia2" text-anchor="middle" transform="translate(313.6 246) rotate(-90) scale(1.2 1)">M (emu/gm)</text>
<line x1="453" y1="283.0" x2="470.3" y2="283.0" stroke="#666" stroke-width="1.5"/>
<circle cx="461.5" cy="283.0" r="1.3" fill="#fff" stroke="#666" stroke-width="0.9"/>
<text x="474" y="285.9" class="il">BFO</text>
<line x1="453" y1="291.9" x2="470.3" y2="291.9" stroke="#6ad86a" stroke-width="1.5"/>
<circle cx="461.5" cy="291.9" r="1.3" fill="#fff" stroke="#6ad86a" stroke-width="0.9"/>
<text x="474" y="294.8" class="il">BYFCO-1</text>
<line x1="453" y1="300.7" x2="470.3" y2="300.7" stroke="#4c4cc4" stroke-width="1.5"/>
<circle cx="461.5" cy="300.7" r="1.3" fill="#fff" stroke="#4c4cc4" stroke-width="0.9"/>
<text x="474" y="303.6" class="il">BYFCO-2</text>
<line x1="453" y1="309.4" x2="470.3" y2="309.4" stroke="#c49090" stroke-width="1.5"/>
<circle cx="461.5" cy="309.4" r="1.3" fill="#fff" stroke="#c49090" stroke-width="0.9"/>
<text x="474" y="312.3" class="il">BYFCO-3</text>
</svg>
</body></html>
